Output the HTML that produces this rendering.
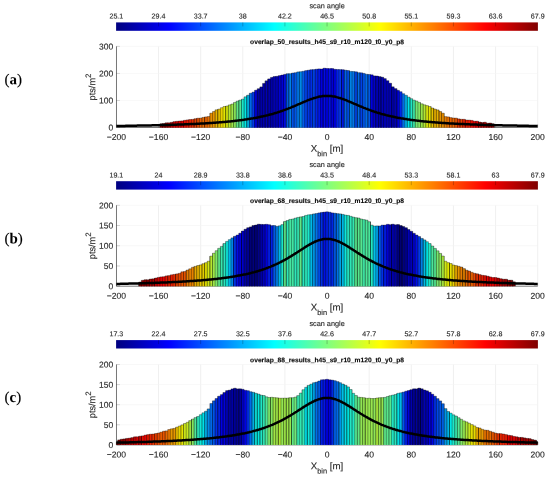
<!DOCTYPE html>
<html lang="en"><head><meta charset="utf-8"><title>Point density vs. scan angle</title>
<style>html,body{margin:0;padding:0;background:#fff}svg{display:block}text{font-family:"Liberation Sans", Arial, Helvetica, sans-serif;fill:#262626;stroke:#262626;stroke-width:.22px;stroke-opacity:.55}.s{font-family:"Liberation Serif", "Times New Roman", serif;fill:#000;stroke:#000;stroke-width:.25px;stroke-opacity:.6}.s tspan{font-weight:bold;stroke:none}</style>
</head><body>
<svg width="550" height="478" viewBox="0 0 550 478">
<rect width="550" height="478" fill="#fff"/>
<defs><linearGradient id="jet" x1="0" x2="1" y1="0" y2="0">
<stop offset="0.0000" stop-color="#000080"/>
<stop offset="0.0156" stop-color="#00008f"/>
<stop offset="0.0312" stop-color="#00009f"/>
<stop offset="0.0469" stop-color="#0000af"/>
<stop offset="0.0625" stop-color="#0000bf"/>
<stop offset="0.0781" stop-color="#0000cf"/>
<stop offset="0.0938" stop-color="#0000df"/>
<stop offset="0.1094" stop-color="#0000ef"/>
<stop offset="0.1250" stop-color="#0000ff"/>
<stop offset="0.1406" stop-color="#0010ff"/>
<stop offset="0.1562" stop-color="#0020ff"/>
<stop offset="0.1719" stop-color="#0030ff"/>
<stop offset="0.1875" stop-color="#0040ff"/>
<stop offset="0.2031" stop-color="#0050ff"/>
<stop offset="0.2188" stop-color="#0060ff"/>
<stop offset="0.2344" stop-color="#0070ff"/>
<stop offset="0.2500" stop-color="#0080ff"/>
<stop offset="0.2656" stop-color="#008fff"/>
<stop offset="0.2812" stop-color="#009fff"/>
<stop offset="0.2969" stop-color="#00afff"/>
<stop offset="0.3125" stop-color="#00bfff"/>
<stop offset="0.3281" stop-color="#00cfff"/>
<stop offset="0.3438" stop-color="#00dfff"/>
<stop offset="0.3594" stop-color="#00efff"/>
<stop offset="0.3750" stop-color="#00ffff"/>
<stop offset="0.3906" stop-color="#10ffef"/>
<stop offset="0.4062" stop-color="#20ffdf"/>
<stop offset="0.4219" stop-color="#30ffcf"/>
<stop offset="0.4375" stop-color="#40ffbf"/>
<stop offset="0.4531" stop-color="#50ffaf"/>
<stop offset="0.4688" stop-color="#60ff9f"/>
<stop offset="0.4844" stop-color="#70ff8f"/>
<stop offset="0.5000" stop-color="#80ff80"/>
<stop offset="0.5156" stop-color="#8fff70"/>
<stop offset="0.5312" stop-color="#9fff60"/>
<stop offset="0.5469" stop-color="#afff50"/>
<stop offset="0.5625" stop-color="#bfff40"/>
<stop offset="0.5781" stop-color="#cfff30"/>
<stop offset="0.5938" stop-color="#dfff20"/>
<stop offset="0.6094" stop-color="#efff10"/>
<stop offset="0.6250" stop-color="#ffff00"/>
<stop offset="0.6406" stop-color="#ffef00"/>
<stop offset="0.6562" stop-color="#ffdf00"/>
<stop offset="0.6719" stop-color="#ffcf00"/>
<stop offset="0.6875" stop-color="#ffbf00"/>
<stop offset="0.7031" stop-color="#ffaf00"/>
<stop offset="0.7188" stop-color="#ff9f00"/>
<stop offset="0.7344" stop-color="#ff8f00"/>
<stop offset="0.7500" stop-color="#ff8000"/>
<stop offset="0.7656" stop-color="#ff7000"/>
<stop offset="0.7812" stop-color="#ff6000"/>
<stop offset="0.7969" stop-color="#ff5000"/>
<stop offset="0.8125" stop-color="#ff4000"/>
<stop offset="0.8281" stop-color="#ff3000"/>
<stop offset="0.8438" stop-color="#ff2000"/>
<stop offset="0.8594" stop-color="#ff1000"/>
<stop offset="0.8750" stop-color="#ff0000"/>
<stop offset="0.8906" stop-color="#ef0000"/>
<stop offset="0.9062" stop-color="#df0000"/>
<stop offset="0.9219" stop-color="#cf0000"/>
<stop offset="0.9375" stop-color="#bf0000"/>
<stop offset="0.9531" stop-color="#af0000"/>
<stop offset="0.9688" stop-color="#9f0000"/>
<stop offset="0.9844" stop-color="#8f0000"/>
<stop offset="1.0000" stop-color="#800000"/>
</linearGradient><filter id="bx" x="-1%" y="-5%" width="102%" height="110%"><feGaussianBlur stdDeviation="0.45 0"/></filter></defs>
<g id="plot1">
<text x="327.05" y="8.20" transform="rotate(.03 327.05 8.20)" font-size="7.3" text-anchor="middle">scan angle</text>
<rect x="116.1" y="22.4" width="421.8" height="8.4" fill="url(#jet)"/>
<text x="116.40" y="18.60" transform="rotate(.03 116.40 18.60)" font-size="7.1" text-anchor="middle">25.1</text>
<line x1="158.53" x2="158.53" y1="22.4" y2="26.4" stroke="#000" stroke-opacity=".38" stroke-width=".6"/>
<text x="158.53" y="18.60" transform="rotate(.03 158.53 18.60)" font-size="7.1" text-anchor="middle">29.4</text>
<line x1="200.66" x2="200.66" y1="22.4" y2="26.4" stroke="#000" stroke-opacity=".38" stroke-width=".6"/>
<text x="200.66" y="18.60" transform="rotate(.03 200.66 18.60)" font-size="7.1" text-anchor="middle">33.7</text>
<line x1="242.79" x2="242.79" y1="22.4" y2="26.4" stroke="#000" stroke-opacity=".38" stroke-width=".6"/>
<text x="242.79" y="18.60" transform="rotate(.03 242.79 18.60)" font-size="7.1" text-anchor="middle">38</text>
<line x1="284.92" x2="284.92" y1="22.4" y2="26.4" stroke="#000" stroke-opacity=".38" stroke-width=".6"/>
<text x="284.92" y="18.60" transform="rotate(.03 284.92 18.60)" font-size="7.1" text-anchor="middle">42.2</text>
<line x1="327.05" x2="327.05" y1="22.4" y2="26.4" stroke="#000" stroke-opacity=".38" stroke-width=".6"/>
<text x="327.05" y="18.60" transform="rotate(.03 327.05 18.60)" font-size="7.1" text-anchor="middle">46.5</text>
<line x1="369.18" x2="369.18" y1="22.4" y2="26.4" stroke="#000" stroke-opacity=".38" stroke-width=".6"/>
<text x="369.18" y="18.60" transform="rotate(.03 369.18 18.60)" font-size="7.1" text-anchor="middle">50.8</text>
<line x1="411.31" x2="411.31" y1="22.4" y2="26.4" stroke="#000" stroke-opacity=".38" stroke-width=".6"/>
<text x="411.31" y="18.60" transform="rotate(.03 411.31 18.60)" font-size="7.1" text-anchor="middle">55.1</text>
<line x1="453.44" x2="453.44" y1="22.4" y2="26.4" stroke="#000" stroke-opacity=".38" stroke-width=".6"/>
<text x="453.44" y="18.60" transform="rotate(.03 453.44 18.60)" font-size="7.1" text-anchor="middle">59.3</text>
<line x1="495.57" x2="495.57" y1="22.4" y2="26.4" stroke="#000" stroke-opacity=".38" stroke-width=".6"/>
<text x="495.57" y="18.60" transform="rotate(.03 495.57 18.60)" font-size="7.1" text-anchor="middle">63.6</text>
<text x="537.70" y="18.60" transform="rotate(.03 537.70 18.60)" font-size="7.1" text-anchor="middle">67.9</text>
<text x="327.05" y="44.10" transform="rotate(.03 327.05 44.10)" font-size="6.7" text-anchor="middle" font-weight="bold" style="fill:#000">overlap_50_results_h45_s9_r10_m120_t0_y0_p8</text>
<line x1="116.40" x2="116.40" y1="46.4" y2="127.5" stroke="#e6e6e6" stroke-width=".6"/>
<line x1="158.53" x2="158.53" y1="46.4" y2="127.5" stroke="#e6e6e6" stroke-width=".6"/>
<line x1="200.66" x2="200.66" y1="46.4" y2="127.5" stroke="#e6e6e6" stroke-width=".6"/>
<line x1="242.79" x2="242.79" y1="46.4" y2="127.5" stroke="#e6e6e6" stroke-width=".6"/>
<line x1="284.92" x2="284.92" y1="46.4" y2="127.5" stroke="#e6e6e6" stroke-width=".6"/>
<line x1="327.05" x2="327.05" y1="46.4" y2="127.5" stroke="#e6e6e6" stroke-width=".6"/>
<line x1="369.18" x2="369.18" y1="46.4" y2="127.5" stroke="#e6e6e6" stroke-width=".6"/>
<line x1="411.31" x2="411.31" y1="46.4" y2="127.5" stroke="#e6e6e6" stroke-width=".6"/>
<line x1="453.44" x2="453.44" y1="46.4" y2="127.5" stroke="#e6e6e6" stroke-width=".6"/>
<line x1="495.57" x2="495.57" y1="46.4" y2="127.5" stroke="#e6e6e6" stroke-width=".6"/>
<line x1="537.70" x2="537.70" y1="46.4" y2="127.5" stroke="#e6e6e6" stroke-width=".6"/>
<line x1="116.4" x2="537.7" y1="127.50" y2="127.50" stroke="#f3f3f3" stroke-width=".6"/>
<line x1="116.4" x2="537.7" y1="100.47" y2="100.47" stroke="#f3f3f3" stroke-width=".6"/>
<line x1="116.4" x2="537.7" y1="73.43" y2="73.43" stroke="#f3f3f3" stroke-width=".6"/>
<line x1="116.4" x2="537.7" y1="46.40" y2="46.40" stroke="#f3f3f3" stroke-width=".6"/>
<path d="M116.5 46.4V127.50H537.7" fill="none" stroke="#262626" stroke-opacity=".6" stroke-width="1"/>
<line x1="116.40" x2="116.40" y1="124.3" y2="127.5" stroke="#262626" stroke-opacity=".3" stroke-width=".6"/>
<text x="116.40" y="140.10" transform="rotate(.03 116.40 140.10)" font-size="8.6" text-anchor="middle">−200</text>
<line x1="158.53" x2="158.53" y1="124.3" y2="127.5" stroke="#262626" stroke-opacity=".3" stroke-width=".6"/>
<text x="158.53" y="140.10" transform="rotate(.03 158.53 140.10)" font-size="8.6" text-anchor="middle">−160</text>
<line x1="200.66" x2="200.66" y1="124.3" y2="127.5" stroke="#262626" stroke-opacity=".3" stroke-width=".6"/>
<text x="200.66" y="140.10" transform="rotate(.03 200.66 140.10)" font-size="8.6" text-anchor="middle">−120</text>
<line x1="242.79" x2="242.79" y1="124.3" y2="127.5" stroke="#262626" stroke-opacity=".3" stroke-width=".6"/>
<text x="242.79" y="140.10" transform="rotate(.03 242.79 140.10)" font-size="8.6" text-anchor="middle">−80</text>
<line x1="284.92" x2="284.92" y1="124.3" y2="127.5" stroke="#262626" stroke-opacity=".3" stroke-width=".6"/>
<text x="284.92" y="140.10" transform="rotate(.03 284.92 140.10)" font-size="8.6" text-anchor="middle">−40</text>
<line x1="327.05" x2="327.05" y1="124.3" y2="127.5" stroke="#262626" stroke-opacity=".3" stroke-width=".6"/>
<text x="327.05" y="140.10" transform="rotate(.03 327.05 140.10)" font-size="8.6" text-anchor="middle">0</text>
<line x1="369.18" x2="369.18" y1="124.3" y2="127.5" stroke="#262626" stroke-opacity=".3" stroke-width=".6"/>
<text x="369.18" y="140.10" transform="rotate(.03 369.18 140.10)" font-size="8.6" text-anchor="middle">40</text>
<line x1="411.31" x2="411.31" y1="124.3" y2="127.5" stroke="#262626" stroke-opacity=".3" stroke-width=".6"/>
<text x="411.31" y="140.10" transform="rotate(.03 411.31 140.10)" font-size="8.6" text-anchor="middle">80</text>
<line x1="453.44" x2="453.44" y1="124.3" y2="127.5" stroke="#262626" stroke-opacity=".3" stroke-width=".6"/>
<text x="453.44" y="140.10" transform="rotate(.03 453.44 140.10)" font-size="8.6" text-anchor="middle">120</text>
<line x1="495.57" x2="495.57" y1="124.3" y2="127.5" stroke="#262626" stroke-opacity=".3" stroke-width=".6"/>
<text x="495.57" y="140.10" transform="rotate(.03 495.57 140.10)" font-size="8.6" text-anchor="middle">160</text>
<line x1="537.70" x2="537.70" y1="124.3" y2="127.5" stroke="#262626" stroke-opacity=".3" stroke-width=".6"/>
<text x="537.70" y="140.10" transform="rotate(.03 537.70 140.10)" font-size="8.6" text-anchor="middle">200</text>
<line x1="116.4" x2="119.9" y1="127.50" y2="127.50" stroke="#262626" stroke-opacity=".3" stroke-width=".6"/>
<text x="113.30" y="130.60" transform="rotate(.03 113.30 130.60)" font-size="8.5" text-anchor="end">0</text>
<line x1="116.4" x2="119.9" y1="100.47" y2="100.47" stroke="#262626" stroke-opacity=".3" stroke-width=".6"/>
<text x="113.30" y="103.57" transform="rotate(.03 113.30 103.57)" font-size="8.5" text-anchor="end">100</text>
<line x1="116.4" x2="119.9" y1="73.43" y2="73.43" stroke="#262626" stroke-opacity=".3" stroke-width=".6"/>
<text x="113.30" y="76.53" transform="rotate(.03 113.30 76.53)" font-size="8.5" text-anchor="end">200</text>
<line x1="116.4" x2="119.9" y1="46.40" y2="46.40" stroke="#262626" stroke-opacity=".3" stroke-width=".6"/>
<text x="113.30" y="49.50" transform="rotate(.03 113.30 49.50)" font-size="8.5" text-anchor="end">300</text>
<g filter="url(#bx)"><rect x="161.88" y="123.8" width="1.2" height="3.7" fill="#960000"/><rect x="164.51" y="123.5" width="1.2" height="4.0" fill="#9a0000"/><rect x="167.15" y="122.8" width="1.2" height="4.7" fill="#b50000"/><rect x="169.78" y="122.8" width="1.2" height="4.7" fill="#bc0000"/><rect x="172.41" y="122.3" width="1.2" height="5.2" fill="#d30000"/><rect x="175.05" y="121.6" width="1.2" height="5.9" fill="#d10000"/><rect x="177.68" y="121.3" width="1.2" height="6.2" fill="#e10000"/><rect x="180.31" y="121.0" width="1.2" height="6.5" fill="#df0000"/><rect x="182.94" y="120.9" width="1.2" height="6.6" fill="#e60d00"/><rect x="185.58" y="120.3" width="1.2" height="7.2" fill="#e61500"/><rect x="188.21" y="119.9" width="1.2" height="7.6" fill="#e62200"/><rect x="190.84" y="119.5" width="1.2" height="8.0" fill="#e62d00"/><rect x="193.48" y="119.4" width="1.2" height="8.1" fill="#e63f00"/><rect x="196.11" y="118.7" width="1.2" height="8.8" fill="#e64c00"/><rect x="198.74" y="118.2" width="1.2" height="9.3" fill="#e65e00"/><rect x="201.38" y="118.1" width="1.2" height="9.4" fill="#e66a00"/><rect x="204.01" y="117.4" width="1.2" height="10.1" fill="#e66400"/><rect x="206.64" y="116.9" width="1.2" height="10.6" fill="#e66c00"/><rect x="209.28" y="116.5" width="1.2" height="11.0" fill="#e68e00"/><rect x="211.91" y="113.1" width="1.2" height="14.4" fill="#e69300"/><rect x="214.54" y="111.5" width="1.2" height="16.0" fill="#e6b200"/><rect x="217.18" y="109.8" width="1.2" height="17.7" fill="#e6bf00"/><rect x="219.81" y="109.1" width="1.2" height="18.4" fill="#e6d000"/><rect x="222.44" y="107.7" width="1.2" height="19.8" fill="#e5e601"/><rect x="225.07" y="106.5" width="1.2" height="21.0" fill="#d4e611"/><rect x="227.71" y="106.0" width="1.2" height="21.5" fill="#b4e631"/><rect x="230.34" y="104.9" width="1.2" height="22.6" fill="#a0e646"/><rect x="232.97" y="104.0" width="1.2" height="23.5" fill="#8ae65c"/><rect x="235.61" y="102.4" width="1.2" height="25.1" fill="#5ee687"/><rect x="238.24" y="101.1" width="1.2" height="26.4" fill="#50e695"/><rect x="240.87" y="100.1" width="1.2" height="27.4" fill="#1ee6c8"/><rect x="243.51" y="99.1" width="1.2" height="28.4" fill="#03e6e3"/><rect x="246.14" y="96.8" width="1.2" height="30.7" fill="#00b7e6"/><rect x="248.77" y="95.2" width="1.2" height="32.3" fill="#0067e6"/><rect x="251.41" y="93.2" width="1.2" height="34.3" fill="#003be6"/><rect x="254.04" y="92.1" width="1.2" height="35.4" fill="#0000da"/><rect x="256.67" y="90.2" width="1.2" height="37.3" fill="#0000a1"/><rect x="259.31" y="88.7" width="1.2" height="38.8" fill="#0000a7"/><rect x="261.94" y="86.9" width="1.2" height="40.6" fill="#0000ae"/><rect x="264.57" y="83.4" width="1.2" height="44.1" fill="#0000b9"/><rect x="267.20" y="80.8" width="1.2" height="46.7" fill="#0000ad"/><rect x="269.84" y="78.9" width="1.2" height="48.6" fill="#0000a6"/><rect x="272.47" y="77.4" width="1.2" height="50.1" fill="#0000b1"/><rect x="275.10" y="76.5" width="1.2" height="51.0" fill="#0000b6"/><rect x="277.74" y="76.3" width="1.2" height="51.2" fill="#0000d3"/><rect x="280.37" y="75.6" width="1.2" height="51.9" fill="#0000d6"/><rect x="283.00" y="75.0" width="1.2" height="52.5" fill="#0012e6"/><rect x="285.64" y="74.4" width="1.2" height="53.1" fill="#0059e6"/><rect x="288.27" y="73.7" width="1.2" height="53.8" fill="#0081e6"/><rect x="290.90" y="73.7" width="1.2" height="53.8" fill="#0051e6"/><rect x="293.54" y="73.0" width="1.2" height="54.5" fill="#0055e6"/><rect x="296.17" y="72.7" width="1.2" height="54.8" fill="#0076e6"/><rect x="298.80" y="71.9" width="1.2" height="55.6" fill="#0089e6"/><rect x="301.44" y="71.7" width="1.2" height="55.8" fill="#005de6"/><rect x="304.07" y="71.3" width="1.2" height="56.2" fill="#0041e6"/><rect x="306.70" y="70.6" width="1.2" height="56.9" fill="#0035e6"/><rect x="309.33" y="70.2" width="1.2" height="57.3" fill="#002ee6"/><rect x="311.97" y="69.7" width="1.2" height="57.8" fill="#0044e6"/><rect x="314.60" y="69.6" width="1.2" height="57.9" fill="#0020e6"/><rect x="317.23" y="69.2" width="1.2" height="58.3" fill="#0017e6"/><rect x="319.87" y="69.0" width="1.2" height="58.5" fill="#0000de"/><rect x="322.50" y="69.0" width="1.2" height="58.5" fill="#0007e6"/><rect x="325.13" y="68.5" width="1.2" height="59.0" fill="#0000e2"/><rect x="327.77" y="68.6" width="1.2" height="58.9" fill="#0010e6"/><rect x="330.40" y="68.6" width="1.2" height="58.9" fill="#0000d5"/><rect x="333.03" y="69.3" width="1.2" height="58.2" fill="#0000e3"/><rect x="335.67" y="69.5" width="1.2" height="58.0" fill="#0021e6"/><rect x="338.30" y="69.6" width="1.2" height="57.9" fill="#0039e6"/><rect x="340.93" y="69.7" width="1.2" height="57.8" fill="#0019e6"/><rect x="343.57" y="70.2" width="1.2" height="57.3" fill="#0062e6"/><rect x="346.20" y="70.5" width="1.2" height="57.0" fill="#004de6"/><rect x="348.83" y="71.4" width="1.2" height="56.1" fill="#0082e6"/><rect x="351.46" y="71.5" width="1.2" height="56.0" fill="#0076e6"/><rect x="354.10" y="71.8" width="1.2" height="55.7" fill="#0046e6"/><rect x="356.73" y="72.7" width="1.2" height="54.8" fill="#006ce6"/><rect x="359.36" y="72.8" width="1.2" height="54.7" fill="#0042e6"/><rect x="362.00" y="73.4" width="1.2" height="54.1" fill="#0053e6"/><rect x="364.63" y="74.3" width="1.2" height="53.2" fill="#006be6"/><rect x="367.26" y="74.5" width="1.2" height="53.0" fill="#005ae6"/><rect x="369.90" y="74.8" width="1.2" height="52.7" fill="#0000de"/><rect x="372.53" y="75.9" width="1.2" height="51.6" fill="#0000ca"/><rect x="375.16" y="76.0" width="1.2" height="51.5" fill="#0000be"/><rect x="377.80" y="76.6" width="1.2" height="50.9" fill="#0000a7"/><rect x="380.43" y="77.2" width="1.2" height="50.3" fill="#0000b6"/><rect x="383.06" y="78.6" width="1.2" height="48.9" fill="#0000bb"/><rect x="385.70" y="80.7" width="1.2" height="46.8" fill="#0000af"/><rect x="388.33" y="83.2" width="1.2" height="44.3" fill="#0000b5"/><rect x="390.96" y="86.8" width="1.2" height="40.7" fill="#0000a2"/><rect x="393.59" y="88.6" width="1.2" height="38.9" fill="#0000b1"/><rect x="396.23" y="90.3" width="1.2" height="37.2" fill="#0000d8"/><rect x="398.86" y="91.7" width="1.2" height="35.8" fill="#002ce6"/><rect x="401.49" y="93.7" width="1.2" height="33.8" fill="#006ae6"/><rect x="404.13" y="95.3" width="1.2" height="32.2" fill="#00ace6"/><rect x="406.76" y="97.1" width="1.2" height="30.4" fill="#00e2e6"/><rect x="409.39" y="98.7" width="1.2" height="28.8" fill="#1ee6c8"/><rect x="412.03" y="100.1" width="1.2" height="27.4" fill="#3ee6a8"/><rect x="414.66" y="101.0" width="1.2" height="26.5" fill="#73e672"/><rect x="417.29" y="102.3" width="1.2" height="25.2" fill="#80e666"/><rect x="419.93" y="103.8" width="1.2" height="23.7" fill="#9ce64a"/><rect x="422.56" y="104.8" width="1.2" height="22.7" fill="#b0e636"/><rect x="425.19" y="105.6" width="1.2" height="21.9" fill="#d9e60c"/><rect x="427.83" y="106.5" width="1.2" height="21.0" fill="#e6e200"/><rect x="430.46" y="108.0" width="1.2" height="19.5" fill="#e6c400"/><rect x="433.09" y="109.1" width="1.2" height="18.4" fill="#e6ae00"/><rect x="435.72" y="109.9" width="1.2" height="17.6" fill="#e6b000"/><rect x="438.36" y="111.5" width="1.2" height="16.0" fill="#e69400"/><rect x="440.99" y="113.2" width="1.2" height="14.3" fill="#e68d00"/><rect x="443.62" y="116.6" width="1.2" height="10.9" fill="#e67d00"/><rect x="446.26" y="116.9" width="1.2" height="10.6" fill="#e67000"/><rect x="448.89" y="117.6" width="1.2" height="9.9" fill="#e66200"/><rect x="451.52" y="118.0" width="1.2" height="9.5" fill="#e66300"/><rect x="454.16" y="118.1" width="1.2" height="9.4" fill="#e65600"/><rect x="456.79" y="118.9" width="1.2" height="8.6" fill="#e63400"/><rect x="459.42" y="119.3" width="1.2" height="8.2" fill="#e63d00"/><rect x="462.06" y="119.3" width="1.2" height="8.2" fill="#e62100"/><rect x="464.69" y="120.0" width="1.2" height="7.5" fill="#e61900"/><rect x="467.32" y="120.1" width="1.2" height="7.4" fill="#e61900"/><rect x="469.96" y="120.4" width="1.2" height="7.1" fill="#e60c00"/><rect x="472.59" y="121.2" width="1.2" height="6.3" fill="#e60600"/><rect x="475.22" y="121.2" width="1.2" height="6.3" fill="#df0000"/><rect x="477.85" y="122.0" width="1.2" height="5.5" fill="#be0000"/><rect x="480.49" y="122.5" width="1.2" height="5.0" fill="#b00000"/><rect x="483.12" y="122.5" width="1.2" height="5.0" fill="#b90000"/><rect x="485.75" y="123.2" width="1.2" height="4.3" fill="#9f0000"/><rect x="488.39" y="123.2" width="1.2" height="4.3" fill="#9e0000"/><rect x="491.02" y="123.8" width="1.2" height="3.7" fill="#8f0000"/><rect x="159.85" y="123.8" width="2.63" height="3.7" fill="#930000"/><rect x="162.48" y="123.5" width="2.63" height="4.0" fill="#960000"/><rect x="165.11" y="122.8" width="2.63" height="4.7" fill="#9a0000"/><rect x="167.75" y="122.8" width="2.63" height="4.7" fill="#b50000"/><rect x="170.38" y="122.3" width="2.63" height="5.2" fill="#bc0000"/><rect x="173.01" y="121.6" width="2.63" height="5.9" fill="#d30000"/><rect x="175.65" y="121.3" width="2.63" height="6.2" fill="#d10000"/><rect x="178.28" y="121.0" width="2.63" height="6.5" fill="#e10000"/><rect x="180.91" y="120.9" width="2.63" height="6.6" fill="#df0000"/><rect x="183.54" y="120.3" width="2.63" height="7.2" fill="#e60d00"/><rect x="186.18" y="119.9" width="2.63" height="7.6" fill="#e61500"/><rect x="188.81" y="119.5" width="2.63" height="8.0" fill="#e62200"/><rect x="191.44" y="119.4" width="2.63" height="8.1" fill="#e62d00"/><rect x="194.08" y="118.7" width="2.63" height="8.8" fill="#e63f00"/><rect x="196.71" y="118.2" width="2.63" height="9.3" fill="#e64c00"/><rect x="199.34" y="118.1" width="2.63" height="9.4" fill="#e65e00"/><rect x="201.98" y="117.4" width="2.63" height="10.1" fill="#e66a00"/><rect x="204.61" y="116.9" width="2.63" height="10.6" fill="#e66400"/><rect x="207.24" y="116.5" width="2.63" height="11.0" fill="#e66c00"/><rect x="209.88" y="113.1" width="2.63" height="14.4" fill="#e68e00"/><rect x="212.51" y="111.5" width="2.63" height="16.0" fill="#e69300"/><rect x="215.14" y="109.8" width="2.63" height="17.7" fill="#e6b200"/><rect x="217.78" y="109.1" width="2.63" height="18.4" fill="#e6bf00"/><rect x="220.41" y="107.7" width="2.63" height="19.8" fill="#e6d000"/><rect x="223.04" y="106.5" width="2.63" height="21.0" fill="#e5e601"/><rect x="225.67" y="106.0" width="2.63" height="21.5" fill="#d4e611"/><rect x="228.31" y="104.9" width="2.63" height="22.6" fill="#b4e631"/><rect x="230.94" y="104.0" width="2.63" height="23.5" fill="#a0e646"/><rect x="233.57" y="102.4" width="2.63" height="25.1" fill="#8ae65c"/><rect x="236.21" y="101.1" width="2.63" height="26.4" fill="#5ee687"/><rect x="238.84" y="100.1" width="2.63" height="27.4" fill="#50e695"/><rect x="241.47" y="99.1" width="2.63" height="28.4" fill="#1ee6c8"/><rect x="244.11" y="96.8" width="2.63" height="30.7" fill="#03e6e3"/><rect x="246.74" y="95.2" width="2.63" height="32.3" fill="#00b7e6"/><rect x="249.37" y="93.2" width="2.63" height="34.3" fill="#0067e6"/><rect x="252.01" y="92.1" width="2.63" height="35.4" fill="#003be6"/><rect x="254.64" y="90.2" width="2.63" height="37.3" fill="#0000da"/><rect x="257.27" y="88.7" width="2.63" height="38.8" fill="#0000a1"/><rect x="259.91" y="86.9" width="2.63" height="40.6" fill="#0000a7"/><rect x="262.54" y="83.4" width="2.63" height="44.1" fill="#0000ae"/><rect x="265.17" y="80.8" width="2.63" height="46.7" fill="#0000b9"/><rect x="267.80" y="78.9" width="2.63" height="48.6" fill="#0000ad"/><rect x="270.44" y="77.4" width="2.63" height="50.1" fill="#0000a6"/><rect x="273.07" y="76.5" width="2.63" height="51.0" fill="#0000b1"/><rect x="275.70" y="76.3" width="2.63" height="51.2" fill="#0000b6"/><rect x="278.34" y="75.6" width="2.63" height="51.9" fill="#0000d3"/><rect x="280.97" y="75.0" width="2.63" height="52.5" fill="#0000d6"/><rect x="283.60" y="74.4" width="2.63" height="53.1" fill="#0012e6"/><rect x="286.24" y="73.7" width="2.63" height="53.8" fill="#0059e6"/><rect x="288.87" y="73.7" width="2.63" height="53.8" fill="#0081e6"/><rect x="291.50" y="73.0" width="2.63" height="54.5" fill="#0051e6"/><rect x="294.14" y="72.7" width="2.63" height="54.8" fill="#0055e6"/><rect x="296.77" y="71.9" width="2.63" height="55.6" fill="#0076e6"/><rect x="299.40" y="71.7" width="2.63" height="55.8" fill="#0089e6"/><rect x="302.04" y="71.3" width="2.63" height="56.2" fill="#005de6"/><rect x="304.67" y="70.6" width="2.63" height="56.9" fill="#0041e6"/><rect x="307.30" y="70.2" width="2.63" height="57.3" fill="#0035e6"/><rect x="309.93" y="69.7" width="2.63" height="57.8" fill="#002ee6"/><rect x="312.57" y="69.6" width="2.63" height="57.9" fill="#0044e6"/><rect x="315.20" y="69.2" width="2.63" height="58.3" fill="#0020e6"/><rect x="317.83" y="68.9" width="2.63" height="58.6" fill="#0017e6"/><rect x="320.47" y="69.0" width="2.63" height="58.5" fill="#0000de"/><rect x="323.10" y="68.2" width="2.63" height="59.3" fill="#0007e6"/><rect x="325.73" y="68.5" width="2.63" height="59.0" fill="#0000e2"/><rect x="328.37" y="68.6" width="2.63" height="58.9" fill="#0010e6"/><rect x="331.00" y="68.5" width="2.63" height="59.0" fill="#0000d5"/><rect x="333.63" y="69.3" width="2.63" height="58.2" fill="#0000e3"/><rect x="336.27" y="69.5" width="2.63" height="58.0" fill="#0021e6"/><rect x="338.90" y="69.6" width="2.63" height="57.9" fill="#0039e6"/><rect x="341.53" y="69.7" width="2.63" height="57.8" fill="#0019e6"/><rect x="344.17" y="70.2" width="2.63" height="57.3" fill="#0062e6"/><rect x="346.80" y="70.5" width="2.63" height="57.0" fill="#004de6"/><rect x="349.43" y="71.4" width="2.63" height="56.1" fill="#0082e6"/><rect x="352.06" y="71.5" width="2.63" height="56.0" fill="#0076e6"/><rect x="354.70" y="71.8" width="2.63" height="55.7" fill="#0046e6"/><rect x="357.33" y="72.7" width="2.63" height="54.8" fill="#006ce6"/><rect x="359.96" y="72.8" width="2.63" height="54.7" fill="#0042e6"/><rect x="362.60" y="73.4" width="2.63" height="54.1" fill="#0053e6"/><rect x="365.23" y="74.3" width="2.63" height="53.2" fill="#006be6"/><rect x="367.86" y="74.5" width="2.63" height="53.0" fill="#005ae6"/><rect x="370.50" y="74.8" width="2.63" height="52.7" fill="#0000de"/><rect x="373.13" y="75.9" width="2.63" height="51.6" fill="#0000ca"/><rect x="375.76" y="76.0" width="2.63" height="51.5" fill="#0000be"/><rect x="378.40" y="76.6" width="2.63" height="50.9" fill="#0000a7"/><rect x="381.03" y="77.2" width="2.63" height="50.3" fill="#0000b6"/><rect x="383.66" y="78.6" width="2.63" height="48.9" fill="#0000bb"/><rect x="386.30" y="80.7" width="2.63" height="46.8" fill="#0000af"/><rect x="388.93" y="83.2" width="2.63" height="44.3" fill="#0000b5"/><rect x="391.56" y="86.8" width="2.63" height="40.7" fill="#0000a2"/><rect x="394.19" y="88.6" width="2.63" height="38.9" fill="#0000b1"/><rect x="396.83" y="90.3" width="2.63" height="37.2" fill="#0000d8"/><rect x="399.46" y="91.7" width="2.63" height="35.8" fill="#002ce6"/><rect x="402.09" y="93.7" width="2.63" height="33.8" fill="#006ae6"/><rect x="404.73" y="95.3" width="2.63" height="32.2" fill="#00ace6"/><rect x="407.36" y="97.1" width="2.63" height="30.4" fill="#00e2e6"/><rect x="409.99" y="98.7" width="2.63" height="28.8" fill="#1ee6c8"/><rect x="412.63" y="100.1" width="2.63" height="27.4" fill="#3ee6a8"/><rect x="415.26" y="101.0" width="2.63" height="26.5" fill="#73e672"/><rect x="417.89" y="102.3" width="2.63" height="25.2" fill="#80e666"/><rect x="420.53" y="103.8" width="2.63" height="23.7" fill="#9ce64a"/><rect x="423.16" y="104.8" width="2.63" height="22.7" fill="#b0e636"/><rect x="425.79" y="105.6" width="2.63" height="21.9" fill="#d9e60c"/><rect x="428.43" y="106.5" width="2.63" height="21.0" fill="#e6e200"/><rect x="431.06" y="108.0" width="2.63" height="19.5" fill="#e6c400"/><rect x="433.69" y="109.1" width="2.63" height="18.4" fill="#e6ae00"/><rect x="436.32" y="109.9" width="2.63" height="17.6" fill="#e6b000"/><rect x="438.96" y="111.5" width="2.63" height="16.0" fill="#e69400"/><rect x="441.59" y="113.2" width="2.63" height="14.3" fill="#e68d00"/><rect x="444.22" y="116.6" width="2.63" height="10.9" fill="#e67d00"/><rect x="446.86" y="116.9" width="2.63" height="10.6" fill="#e67000"/><rect x="449.49" y="117.6" width="2.63" height="9.9" fill="#e66200"/><rect x="452.12" y="118.0" width="2.63" height="9.5" fill="#e66300"/><rect x="454.76" y="118.1" width="2.63" height="9.4" fill="#e65600"/><rect x="457.39" y="118.9" width="2.63" height="8.6" fill="#e63400"/><rect x="460.02" y="119.3" width="2.63" height="8.2" fill="#e63d00"/><rect x="462.66" y="119.3" width="2.63" height="8.2" fill="#e62100"/><rect x="465.29" y="120.0" width="2.63" height="7.5" fill="#e61900"/><rect x="467.92" y="120.1" width="2.63" height="7.4" fill="#e61900"/><rect x="470.56" y="120.4" width="2.63" height="7.1" fill="#e60c00"/><rect x="473.19" y="121.2" width="2.63" height="6.3" fill="#e60600"/><rect x="475.82" y="121.2" width="2.63" height="6.3" fill="#df0000"/><rect x="478.45" y="122.0" width="2.63" height="5.5" fill="#be0000"/><rect x="481.09" y="122.5" width="2.63" height="5.0" fill="#b00000"/><rect x="483.72" y="122.2" width="2.63" height="5.3" fill="#b90000"/><rect x="486.35" y="123.2" width="2.63" height="4.3" fill="#9f0000"/><rect x="488.99" y="123.0" width="2.63" height="4.5" fill="#9e0000"/><rect x="491.62" y="123.8" width="2.63" height="3.7" fill="#8f0000"/><g fill="none" stroke="#000" stroke-width=".85"><path d="M159.85 127.5V123.8M167.75 127.5V122.8M170.38 127.5V122.3M175.65 127.5V121.3M186.18 127.5V119.9M191.44 127.5V119.4M207.24 127.5V116.5M212.51 127.5V111.5M220.41 127.5V107.7M223.04 127.5V106.5M252.01 127.5V92.1M262.54 127.5V83.4M270.44 127.5V77.4M273.07 127.5V76.5M275.70 127.5V76.3M296.77 127.5V71.9M302.04 127.5V71.3M304.67 127.5V70.6M320.47 127.5V68.9M336.27 127.5V69.3M338.90 127.5V69.5M352.06 127.5V71.4M365.23 127.5V73.4M386.30 127.5V78.6M388.93 127.5V80.7M394.19 127.5V86.8M399.46 127.5V90.3M402.09 127.5V91.7M404.73 127.5V93.7M417.89 127.5V101.0M446.86 127.5V116.6M467.92 127.5V120.0M470.56 127.5V120.1M473.19 127.5V120.4M486.35 127.5V122.2" stroke-opacity=".4"/><path d="M162.48 127.5V123.5M165.11 127.5V122.8M173.01 127.5V121.6M178.28 127.5V121.0M180.91 127.5V120.9M183.54 127.5V120.3M188.81 127.5V119.5M199.34 127.5V118.1M201.98 127.5V117.4M209.88 127.5V113.1M215.14 127.5V109.8M228.31 127.5V104.9M230.94 127.5V104.0M233.57 127.5V102.4M236.21 127.5V101.1M241.47 127.5V99.1M244.11 127.5V96.8M249.37 127.5V93.2M254.64 127.5V90.2M257.27 127.5V88.7M259.91 127.5V86.9M278.34 127.5V75.6M280.97 127.5V75.0M283.60 127.5V74.4M291.50 127.5V73.0M294.14 127.5V72.7M299.40 127.5V71.7M307.30 127.5V70.2M309.93 127.5V69.7M312.57 127.5V69.6M315.20 127.5V69.2M317.83 127.5V68.9M325.73 127.5V68.2M328.37 127.5V68.5M331.00 127.5V68.5M333.63 127.5V68.5M346.80 127.5V70.2M354.70 127.5V71.5M362.60 127.5V72.8M370.50 127.5V74.5M373.13 127.5V74.8M378.40 127.5V76.0M383.66 127.5V77.2M391.56 127.5V83.2M407.36 127.5V95.3M412.63 127.5V98.7M415.26 127.5V100.1M420.53 127.5V102.3M423.16 127.5V103.8M425.79 127.5V104.8M428.43 127.5V105.6M436.32 127.5V109.1M441.59 127.5V111.5M444.22 127.5V113.2M449.49 127.5V116.9M452.12 127.5V117.6M454.76 127.5V118.0M457.39 127.5V118.1M462.66 127.5V119.3M475.82 127.5V121.2M483.72 127.5V122.2M488.99 127.5V123.0M491.62 127.5V123.0M494.25 127.5V123.8" stroke-opacity=".56"/><path d="M194.08 127.5V118.7M196.71 127.5V118.2M204.61 127.5V116.9M217.78 127.5V109.1M225.67 127.5V106.0M238.84 127.5V100.1M246.74 127.5V95.2M265.17 127.5V80.8M267.80 127.5V78.9M286.24 127.5V73.7M288.87 127.5V73.7M323.10 127.5V68.2M341.53 127.5V69.6M344.17 127.5V69.7M349.43 127.5V70.5M357.33 127.5V71.8M359.96 127.5V72.7M367.86 127.5V74.3M375.76 127.5V75.9M381.03 127.5V76.6M396.83 127.5V88.6M409.99 127.5V97.1M431.06 127.5V106.5M433.69 127.5V108.0M438.96 127.5V109.9M460.02 127.5V118.9M465.29 127.5V119.3M478.45 127.5V121.2M481.09 127.5V122.0" stroke-opacity=".75"/><path d="M159.85 123.8H162.48M162.48 123.5H165.11M165.11 122.8H167.75M167.75 122.8H170.38M170.38 122.3H173.01M173.01 121.6H175.65M175.65 121.3H178.28M178.28 121.0H180.91M180.91 120.9H183.54M183.54 120.3H186.18M186.18 119.9H188.81M188.81 119.5H191.44M191.44 119.4H194.08M194.08 118.7H196.71M196.71 118.2H199.34M199.34 118.1H201.98M201.98 117.4H204.61M204.61 116.9H207.24M207.24 116.5H209.88M209.88 113.1H212.51M212.51 111.5H215.14M215.14 109.8H217.78M217.78 109.1H220.41M220.41 107.7H223.04M223.04 106.5H225.67M225.67 106.0H228.31M228.31 104.9H230.94M230.94 104.0H233.57M233.57 102.4H236.21M236.21 101.1H238.84M238.84 100.1H241.47M241.47 99.1H244.11M244.11 96.8H246.74M246.74 95.2H249.37M249.37 93.2H252.01M252.01 92.1H254.64M254.64 90.2H257.27M257.27 88.7H259.91M259.91 86.9H262.54M262.54 83.4H265.17M265.17 80.8H267.80M267.80 78.9H270.44M270.44 77.4H273.07M273.07 76.5H275.70M275.70 76.3H278.34M278.34 75.6H280.97M280.97 75.0H283.60M283.60 74.4H286.24M286.24 73.7H288.87M288.87 73.7H291.50M291.50 73.0H294.14M294.14 72.7H296.77M296.77 71.9H299.40M299.40 71.7H302.04M302.04 71.3H304.67M304.67 70.6H307.30M307.30 70.2H309.93M309.93 69.7H312.57M312.57 69.6H315.20M315.20 69.2H317.83M317.83 68.9H320.47M320.47 69.0H323.10M323.10 68.2H325.73M325.73 68.5H328.37M328.37 68.6H331.00M331.00 68.5H333.63M333.63 69.3H336.27M336.27 69.5H338.90M338.90 69.6H341.53M341.53 69.7H344.17M344.17 70.2H346.80M346.80 70.5H349.43M349.43 71.4H352.06M352.06 71.5H354.70M354.70 71.8H357.33M357.33 72.7H359.96M359.96 72.8H362.60M362.60 73.4H365.23M365.23 74.3H367.86M367.86 74.5H370.50M370.50 74.8H373.13M373.13 75.9H375.76M375.76 76.0H378.40M378.40 76.6H381.03M381.03 77.2H383.66M383.66 78.6H386.30M386.30 80.7H388.93M388.93 83.2H391.56M391.56 86.8H394.19M394.19 88.6H396.83M396.83 90.3H399.46M399.46 91.7H402.09M402.09 93.7H404.73M404.73 95.3H407.36M407.36 97.1H409.99M409.99 98.7H412.63M412.63 100.1H415.26M415.26 101.0H417.89M417.89 102.3H420.53M420.53 103.8H423.16M423.16 104.8H425.79M425.79 105.6H428.43M428.43 106.5H431.06M431.06 108.0H433.69M433.69 109.1H436.32M436.32 109.9H438.96M438.96 111.5H441.59M441.59 113.2H444.22M444.22 116.6H446.86M446.86 116.9H449.49M449.49 117.6H452.12M452.12 118.0H454.76M454.76 118.1H457.39M457.39 118.9H460.02M460.02 119.3H462.66M462.66 119.3H465.29M465.29 120.0H467.92M467.92 120.1H470.56M470.56 120.4H473.19M473.19 121.2H475.82M475.82 121.2H478.45M478.45 122.0H481.09M481.09 122.5H483.72M483.72 122.2H486.35M486.35 123.2H488.99M488.99 123.0H491.62M491.62 123.8H494.25" stroke-opacity=".4" stroke-width=".8"/></g></g>
<polyline fill="none" stroke="#000" stroke-width="2.5" stroke-linejoin="round" points="116.4,126.0 117.5,126.0 118.5,125.9 119.6,125.9 120.6,125.9 121.7,125.9 122.7,125.9 123.8,125.9 124.8,125.9 125.9,125.8 126.9,125.8 128.0,125.8 129.0,125.8 130.1,125.8 131.1,125.8 132.2,125.7 133.3,125.7 134.3,125.7 135.4,125.7 136.4,125.7 137.5,125.6 138.5,125.6 139.6,125.6 140.6,125.6 141.7,125.6 142.7,125.5 143.8,125.5 144.8,125.5 145.9,125.5 146.9,125.5 148.0,125.4 149.1,125.4 150.1,125.4 151.2,125.4 152.2,125.3 153.3,125.3 154.3,125.3 155.4,125.3 156.4,125.2 157.5,125.2 158.5,125.2 159.6,125.2 160.6,125.1 161.7,125.1 162.7,125.1 163.8,125.0 164.8,125.0 165.9,125.0 167.0,125.0 168.0,124.9 169.1,124.9 170.1,124.9 171.2,124.8 172.2,124.8 173.3,124.8 174.3,124.7 175.4,124.7 176.4,124.7 177.5,124.6 178.5,124.6 179.6,124.5 180.6,124.5 181.7,124.5 182.8,124.4 183.8,124.4 184.9,124.3 185.9,124.3 187.0,124.3 188.0,124.2 189.1,124.2 190.1,124.1 191.2,124.1 192.2,124.0 193.3,124.0 194.3,123.9 195.4,123.9 196.4,123.8 197.5,123.8 198.6,123.7 199.6,123.7 200.7,123.6 201.7,123.5 202.8,123.5 203.8,123.4 204.9,123.4 205.9,123.3 207.0,123.2 208.0,123.2 209.1,123.1 210.1,123.0 211.2,123.0 212.2,122.9 213.3,122.8 214.4,122.7 215.4,122.7 216.5,122.6 217.5,122.5 218.6,122.4 219.6,122.3 220.7,122.3 221.7,122.2 222.8,122.1 223.8,122.0 224.9,121.9 225.9,121.8 227.0,121.7 228.0,121.6 229.1,121.5 230.2,121.4 231.2,121.3 232.3,121.2 233.3,121.1 234.4,120.9 235.4,120.8 236.5,120.7 237.5,120.6 238.6,120.4 239.6,120.3 240.7,120.2 241.7,120.0 242.8,119.9 243.8,119.8 244.9,119.6 245.9,119.4 247.0,119.3 248.1,119.1 249.1,119.0 250.2,118.8 251.2,118.6 252.3,118.4 253.3,118.3 254.4,118.1 255.4,117.9 256.5,117.7 257.5,117.5 258.6,117.3 259.6,117.0 260.7,116.8 261.7,116.6 262.8,116.4 263.9,116.1 264.9,115.9 266.0,115.6 267.0,115.4 268.1,115.1 269.1,114.8 270.2,114.5 271.2,114.3 272.3,114.0 273.3,113.7 274.4,113.3 275.4,113.0 276.5,112.7 277.5,112.4 278.6,112.0 279.7,111.7 280.7,111.3 281.8,111.0 282.8,110.6 283.9,110.2 284.9,109.8 286.0,109.4 287.0,109.0 288.1,108.6 289.1,108.2 290.2,107.8 291.2,107.4 292.3,106.9 293.3,106.5 294.4,106.1 295.5,105.6 296.5,105.2 297.6,104.7 298.6,104.2 299.7,103.8 300.7,103.3 301.8,102.9 302.8,102.4 303.9,102.0 304.9,101.5 306.0,101.1 307.0,100.7 308.1,100.2 309.1,99.8 310.2,99.4 311.3,99.0 312.3,98.7 313.4,98.3 314.4,98.0 315.5,97.7 316.5,97.4 317.6,97.1 318.6,96.8 319.7,96.6 320.7,96.4 321.8,96.3 322.8,96.1 323.9,96.0 324.9,95.9 326.0,95.9 327.1,95.9 328.1,95.9 329.2,95.9 330.2,96.0 331.3,96.1 332.3,96.3 333.4,96.4 334.4,96.6 335.5,96.8 336.5,97.1 337.6,97.4 338.6,97.7 339.7,98.0 340.7,98.3 341.8,98.7 342.8,99.0 343.9,99.4 345.0,99.8 346.0,100.2 347.1,100.7 348.1,101.1 349.2,101.5 350.2,102.0 351.3,102.4 352.3,102.9 353.4,103.3 354.4,103.8 355.5,104.2 356.5,104.7 357.6,105.2 358.6,105.6 359.7,106.1 360.8,106.5 361.8,106.9 362.9,107.4 363.9,107.8 365.0,108.2 366.0,108.6 367.1,109.0 368.1,109.4 369.2,109.8 370.2,110.2 371.3,110.6 372.3,111.0 373.4,111.3 374.4,111.7 375.5,112.0 376.6,112.4 377.6,112.7 378.7,113.0 379.7,113.3 380.8,113.7 381.8,114.0 382.9,114.3 383.9,114.5 385.0,114.8 386.0,115.1 387.1,115.4 388.1,115.6 389.2,115.9 390.2,116.1 391.3,116.4 392.4,116.6 393.4,116.8 394.5,117.0 395.5,117.3 396.6,117.5 397.6,117.7 398.7,117.9 399.7,118.1 400.8,118.3 401.8,118.4 402.9,118.6 403.9,118.8 405.0,119.0 406.0,119.1 407.1,119.3 408.2,119.4 409.2,119.6 410.3,119.8 411.3,119.9 412.4,120.0 413.4,120.2 414.5,120.3 415.5,120.4 416.6,120.6 417.6,120.7 418.7,120.8 419.7,120.9 420.8,121.1 421.8,121.2 422.9,121.3 423.9,121.4 425.0,121.5 426.1,121.6 427.1,121.7 428.2,121.8 429.2,121.9 430.3,122.0 431.3,122.1 432.4,122.2 433.4,122.3 434.5,122.3 435.5,122.4 436.6,122.5 437.6,122.6 438.7,122.7 439.7,122.7 440.8,122.8 441.9,122.9 442.9,123.0 444.0,123.0 445.0,123.1 446.1,123.2 447.1,123.2 448.2,123.3 449.2,123.4 450.3,123.4 451.3,123.5 452.4,123.5 453.4,123.6 454.5,123.7 455.5,123.7 456.6,123.8 457.7,123.8 458.7,123.9 459.8,123.9 460.8,124.0 461.9,124.0 462.9,124.1 464.0,124.1 465.0,124.2 466.1,124.2 467.1,124.3 468.2,124.3 469.2,124.3 470.3,124.4 471.3,124.4 472.4,124.5 473.5,124.5 474.5,124.5 475.6,124.6 476.6,124.6 477.7,124.7 478.7,124.7 479.8,124.7 480.8,124.8 481.9,124.8 482.9,124.8 484.0,124.9 485.0,124.9 486.1,124.9 487.1,125.0 488.2,125.0 489.3,125.0 490.3,125.0 491.4,125.1 492.4,125.1 493.5,125.1 494.5,125.2 495.6,125.2 496.6,125.2 497.7,125.2 498.7,125.3 499.8,125.3 500.8,125.3 501.9,125.3 502.9,125.4 504.0,125.4 505.0,125.4 506.1,125.4 507.2,125.5 508.2,125.5 509.3,125.5 510.3,125.5 511.4,125.5 512.4,125.6 513.5,125.6 514.5,125.6 515.6,125.6 516.6,125.6 517.7,125.7 518.7,125.7 519.8,125.7 520.8,125.7 521.9,125.7 523.0,125.8 524.0,125.8 525.1,125.8 526.1,125.8 527.2,125.8 528.2,125.8 529.3,125.9 530.3,125.9 531.4,125.9 532.4,125.9 533.5,125.9 534.5,125.9 535.6,125.9 536.6,126.0 537.7,126.0"/>
<text x="327.05" y="151.80" transform="rotate(.03 327.05 151.80)" font-size="9.7" text-anchor="middle">X<tspan font-size="7.4" dy="4.4">bin</tspan><tspan dy="-4.4"> [m]</tspan></text>
<text transform="translate(95.2 87.0) rotate(-89.97)" font-size="9.2" text-anchor="middle">pts/m<tspan font-size="7.9" dy="-4.2">2</tspan></text>
<text x="4.50" y="84.35" transform="rotate(.03 4.50 84.35)" font-size="15" text-anchor="start" class="s">(<tspan>a</tspan>)</text>
</g>
<g id="plot2">
<text x="327.05" y="167.00" transform="rotate(.03 327.05 167.00)" font-size="7.3" text-anchor="middle">scan angle</text>
<rect x="116.1" y="181.2" width="421.8" height="8.4" fill="url(#jet)"/>
<text x="116.40" y="177.40" transform="rotate(.03 116.40 177.40)" font-size="7.1" text-anchor="middle">19.1</text>
<line x1="158.53" x2="158.53" y1="181.2" y2="185.2" stroke="#000" stroke-opacity=".38" stroke-width=".6"/>
<text x="158.53" y="177.40" transform="rotate(.03 158.53 177.40)" font-size="7.1" text-anchor="middle">24</text>
<line x1="200.66" x2="200.66" y1="181.2" y2="185.2" stroke="#000" stroke-opacity=".38" stroke-width=".6"/>
<text x="200.66" y="177.40" transform="rotate(.03 200.66 177.40)" font-size="7.1" text-anchor="middle">28.9</text>
<line x1="242.79" x2="242.79" y1="181.2" y2="185.2" stroke="#000" stroke-opacity=".38" stroke-width=".6"/>
<text x="242.79" y="177.40" transform="rotate(.03 242.79 177.40)" font-size="7.1" text-anchor="middle">33.8</text>
<line x1="284.92" x2="284.92" y1="181.2" y2="185.2" stroke="#000" stroke-opacity=".38" stroke-width=".6"/>
<text x="284.92" y="177.40" transform="rotate(.03 284.92 177.40)" font-size="7.1" text-anchor="middle">38.6</text>
<line x1="327.05" x2="327.05" y1="181.2" y2="185.2" stroke="#000" stroke-opacity=".38" stroke-width=".6"/>
<text x="327.05" y="177.40" transform="rotate(.03 327.05 177.40)" font-size="7.1" text-anchor="middle">43.5</text>
<line x1="369.18" x2="369.18" y1="181.2" y2="185.2" stroke="#000" stroke-opacity=".38" stroke-width=".6"/>
<text x="369.18" y="177.40" transform="rotate(.03 369.18 177.40)" font-size="7.1" text-anchor="middle">48.4</text>
<line x1="411.31" x2="411.31" y1="181.2" y2="185.2" stroke="#000" stroke-opacity=".38" stroke-width=".6"/>
<text x="411.31" y="177.40" transform="rotate(.03 411.31 177.40)" font-size="7.1" text-anchor="middle">53.3</text>
<line x1="453.44" x2="453.44" y1="181.2" y2="185.2" stroke="#000" stroke-opacity=".38" stroke-width=".6"/>
<text x="453.44" y="177.40" transform="rotate(.03 453.44 177.40)" font-size="7.1" text-anchor="middle">58.1</text>
<line x1="495.57" x2="495.57" y1="181.2" y2="185.2" stroke="#000" stroke-opacity=".38" stroke-width=".6"/>
<text x="495.57" y="177.40" transform="rotate(.03 495.57 177.40)" font-size="7.1" text-anchor="middle">63</text>
<text x="537.70" y="177.40" transform="rotate(.03 537.70 177.40)" font-size="7.1" text-anchor="middle">67.9</text>
<text x="327.05" y="203.00" transform="rotate(.03 327.05 203.00)" font-size="6.7" text-anchor="middle" font-weight="bold" style="fill:#000">overlap_68_results_h45_s9_r10_m120_t0_y0_p8</text>
<line x1="116.40" x2="116.40" y1="205.3" y2="286.2" stroke="#e6e6e6" stroke-width=".6"/>
<line x1="158.53" x2="158.53" y1="205.3" y2="286.2" stroke="#e6e6e6" stroke-width=".6"/>
<line x1="200.66" x2="200.66" y1="205.3" y2="286.2" stroke="#e6e6e6" stroke-width=".6"/>
<line x1="242.79" x2="242.79" y1="205.3" y2="286.2" stroke="#e6e6e6" stroke-width=".6"/>
<line x1="284.92" x2="284.92" y1="205.3" y2="286.2" stroke="#e6e6e6" stroke-width=".6"/>
<line x1="327.05" x2="327.05" y1="205.3" y2="286.2" stroke="#e6e6e6" stroke-width=".6"/>
<line x1="369.18" x2="369.18" y1="205.3" y2="286.2" stroke="#e6e6e6" stroke-width=".6"/>
<line x1="411.31" x2="411.31" y1="205.3" y2="286.2" stroke="#e6e6e6" stroke-width=".6"/>
<line x1="453.44" x2="453.44" y1="205.3" y2="286.2" stroke="#e6e6e6" stroke-width=".6"/>
<line x1="495.57" x2="495.57" y1="205.3" y2="286.2" stroke="#e6e6e6" stroke-width=".6"/>
<line x1="537.70" x2="537.70" y1="205.3" y2="286.2" stroke="#e6e6e6" stroke-width=".6"/>
<line x1="116.4" x2="537.7" y1="286.20" y2="286.20" stroke="#f3f3f3" stroke-width=".6"/>
<line x1="116.4" x2="537.7" y1="265.98" y2="265.98" stroke="#f3f3f3" stroke-width=".6"/>
<line x1="116.4" x2="537.7" y1="245.75" y2="245.75" stroke="#f3f3f3" stroke-width=".6"/>
<line x1="116.4" x2="537.7" y1="225.53" y2="225.53" stroke="#f3f3f3" stroke-width=".6"/>
<line x1="116.4" x2="537.7" y1="205.30" y2="205.30" stroke="#f3f3f3" stroke-width=".6"/>
<path d="M116.5 205.3V286.20H537.7" fill="none" stroke="#262626" stroke-opacity=".6" stroke-width="1"/>
<line x1="116.40" x2="116.40" y1="283.0" y2="286.2" stroke="#262626" stroke-opacity=".3" stroke-width=".6"/>
<text x="116.40" y="298.80" transform="rotate(.03 116.40 298.80)" font-size="8.6" text-anchor="middle">−200</text>
<line x1="158.53" x2="158.53" y1="283.0" y2="286.2" stroke="#262626" stroke-opacity=".3" stroke-width=".6"/>
<text x="158.53" y="298.80" transform="rotate(.03 158.53 298.80)" font-size="8.6" text-anchor="middle">−160</text>
<line x1="200.66" x2="200.66" y1="283.0" y2="286.2" stroke="#262626" stroke-opacity=".3" stroke-width=".6"/>
<text x="200.66" y="298.80" transform="rotate(.03 200.66 298.80)" font-size="8.6" text-anchor="middle">−120</text>
<line x1="242.79" x2="242.79" y1="283.0" y2="286.2" stroke="#262626" stroke-opacity=".3" stroke-width=".6"/>
<text x="242.79" y="298.80" transform="rotate(.03 242.79 298.80)" font-size="8.6" text-anchor="middle">−80</text>
<line x1="284.92" x2="284.92" y1="283.0" y2="286.2" stroke="#262626" stroke-opacity=".3" stroke-width=".6"/>
<text x="284.92" y="298.80" transform="rotate(.03 284.92 298.80)" font-size="8.6" text-anchor="middle">−40</text>
<line x1="327.05" x2="327.05" y1="283.0" y2="286.2" stroke="#262626" stroke-opacity=".3" stroke-width=".6"/>
<text x="327.05" y="298.80" transform="rotate(.03 327.05 298.80)" font-size="8.6" text-anchor="middle">0</text>
<line x1="369.18" x2="369.18" y1="283.0" y2="286.2" stroke="#262626" stroke-opacity=".3" stroke-width=".6"/>
<text x="369.18" y="298.80" transform="rotate(.03 369.18 298.80)" font-size="8.6" text-anchor="middle">40</text>
<line x1="411.31" x2="411.31" y1="283.0" y2="286.2" stroke="#262626" stroke-opacity=".3" stroke-width=".6"/>
<text x="411.31" y="298.80" transform="rotate(.03 411.31 298.80)" font-size="8.6" text-anchor="middle">80</text>
<line x1="453.44" x2="453.44" y1="283.0" y2="286.2" stroke="#262626" stroke-opacity=".3" stroke-width=".6"/>
<text x="453.44" y="298.80" transform="rotate(.03 453.44 298.80)" font-size="8.6" text-anchor="middle">120</text>
<line x1="495.57" x2="495.57" y1="283.0" y2="286.2" stroke="#262626" stroke-opacity=".3" stroke-width=".6"/>
<text x="495.57" y="298.80" transform="rotate(.03 495.57 298.80)" font-size="8.6" text-anchor="middle">160</text>
<line x1="537.70" x2="537.70" y1="283.0" y2="286.2" stroke="#262626" stroke-opacity=".3" stroke-width=".6"/>
<text x="537.70" y="298.80" transform="rotate(.03 537.70 298.80)" font-size="8.6" text-anchor="middle">200</text>
<line x1="116.4" x2="119.9" y1="286.20" y2="286.20" stroke="#262626" stroke-opacity=".3" stroke-width=".6"/>
<text x="113.30" y="289.30" transform="rotate(.03 113.30 289.30)" font-size="8.5" text-anchor="end">0</text>
<line x1="116.4" x2="119.9" y1="265.98" y2="265.98" stroke="#262626" stroke-opacity=".3" stroke-width=".6"/>
<text x="113.30" y="269.08" transform="rotate(.03 113.30 269.08)" font-size="8.5" text-anchor="end">50</text>
<line x1="116.4" x2="119.9" y1="245.75" y2="245.75" stroke="#262626" stroke-opacity=".3" stroke-width=".6"/>
<text x="113.30" y="248.85" transform="rotate(.03 113.30 248.85)" font-size="8.5" text-anchor="end">100</text>
<line x1="116.4" x2="119.9" y1="225.53" y2="225.53" stroke="#262626" stroke-opacity=".3" stroke-width=".6"/>
<text x="113.30" y="228.62" transform="rotate(.03 113.30 228.62)" font-size="8.5" text-anchor="end">150</text>
<line x1="116.4" x2="119.9" y1="205.30" y2="205.30" stroke="#262626" stroke-opacity=".3" stroke-width=".6"/>
<text x="113.30" y="208.40" transform="rotate(.03 113.30 208.40)" font-size="8.5" text-anchor="end">200</text>
<g filter="url(#bx)"><rect x="140.81" y="282.0" width="1.2" height="4.2" fill="#8e0000"/><rect x="143.45" y="280.3" width="1.2" height="5.9" fill="#830000"/><rect x="146.08" y="279.8" width="1.2" height="6.4" fill="#960000"/><rect x="148.71" y="279.8" width="1.2" height="6.4" fill="#af0000"/><rect x="151.35" y="279.0" width="1.2" height="7.2" fill="#aa0000"/><rect x="153.98" y="278.8" width="1.2" height="7.4" fill="#be0000"/><rect x="156.61" y="278.0" width="1.2" height="8.2" fill="#d10000"/><rect x="159.25" y="277.4" width="1.2" height="8.8" fill="#dc0000"/><rect x="161.88" y="276.9" width="1.2" height="9.3" fill="#e60300"/><rect x="164.51" y="276.7" width="1.2" height="9.5" fill="#e61900"/><rect x="167.15" y="275.9" width="1.2" height="10.3" fill="#e62300"/><rect x="169.78" y="275.6" width="1.2" height="10.6" fill="#e61e00"/><rect x="172.41" y="274.8" width="1.2" height="11.4" fill="#e62900"/><rect x="175.05" y="274.4" width="1.2" height="11.8" fill="#e64300"/><rect x="177.68" y="273.9" width="1.2" height="12.3" fill="#e64900"/><rect x="180.31" y="273.3" width="1.2" height="12.9" fill="#e65100"/><rect x="182.94" y="271.8" width="1.2" height="14.4" fill="#e65500"/><rect x="185.58" y="271.5" width="1.2" height="14.7" fill="#e67b00"/><rect x="188.21" y="270.0" width="1.2" height="16.2" fill="#e68000"/><rect x="190.84" y="268.8" width="1.2" height="17.4" fill="#e68100"/><rect x="193.48" y="267.3" width="1.2" height="18.9" fill="#e6a700"/><rect x="196.11" y="266.4" width="1.2" height="19.8" fill="#e6b200"/><rect x="198.74" y="265.5" width="1.2" height="20.7" fill="#e6c900"/><rect x="201.38" y="264.9" width="1.2" height="21.3" fill="#e6ce00"/><rect x="204.01" y="263.7" width="1.2" height="22.5" fill="#e6e400"/><rect x="206.64" y="262.7" width="1.2" height="23.5" fill="#d0e615"/><rect x="209.28" y="261.2" width="1.2" height="25.0" fill="#b9e62d"/><rect x="211.91" y="256.1" width="1.2" height="30.1" fill="#9ce649"/><rect x="214.54" y="253.2" width="1.2" height="33.0" fill="#7fe666"/><rect x="217.18" y="250.7" width="1.2" height="35.5" fill="#5fe686"/><rect x="219.81" y="248.3" width="1.2" height="37.9" fill="#38e6ad"/><rect x="222.44" y="246.4" width="1.2" height="39.8" fill="#2be6bb"/><rect x="225.07" y="243.5" width="1.2" height="42.7" fill="#0de6d9"/><rect x="227.71" y="241.4" width="1.2" height="44.8" fill="#00b5e6"/><rect x="230.34" y="239.6" width="1.2" height="46.6" fill="#0085e6"/><rect x="232.97" y="237.9" width="1.2" height="48.3" fill="#0034e6"/><rect x="235.61" y="236.3" width="1.2" height="49.9" fill="#0009e6"/><rect x="238.24" y="235.0" width="1.2" height="51.2" fill="#0000dd"/><rect x="240.87" y="233.2" width="1.2" height="53.0" fill="#0000cc"/><rect x="243.51" y="231.0" width="1.2" height="55.2" fill="#0000a0"/><rect x="246.14" y="229.2" width="1.2" height="57.0" fill="#00009b"/><rect x="248.77" y="227.7" width="1.2" height="58.5" fill="#000077"/><rect x="251.41" y="226.9" width="1.2" height="59.3" fill="#00007e"/><rect x="254.04" y="225.5" width="1.2" height="60.7" fill="#00007a"/><rect x="256.67" y="225.0" width="1.2" height="61.2" fill="#00008b"/><rect x="259.31" y="224.4" width="1.2" height="61.8" fill="#0000a3"/><rect x="261.94" y="224.5" width="1.2" height="61.7" fill="#0000bb"/><rect x="264.57" y="224.5" width="1.2" height="61.7" fill="#0000d9"/><rect x="267.20" y="224.7" width="1.2" height="61.5" fill="#001de6"/><rect x="269.84" y="225.6" width="1.2" height="60.6" fill="#0020e6"/><rect x="272.47" y="225.6" width="1.2" height="60.6" fill="#0056e6"/><rect x="275.10" y="226.4" width="1.2" height="59.8" fill="#007de6"/><rect x="277.74" y="226.4" width="1.2" height="59.8" fill="#00b4e6"/><rect x="280.37" y="225.8" width="1.2" height="60.4" fill="#18e6cd"/><rect x="283.00" y="224.6" width="1.2" height="61.6" fill="#5ee687"/><rect x="285.64" y="221.5" width="1.2" height="64.7" fill="#2ee6b7"/><rect x="288.27" y="220.5" width="1.2" height="65.7" fill="#44e6a1"/><rect x="290.90" y="219.4" width="1.2" height="66.8" fill="#43e6a3"/><rect x="293.54" y="219.0" width="1.2" height="67.2" fill="#2ee6b8"/><rect x="296.17" y="218.1" width="1.2" height="68.1" fill="#35e6b1"/><rect x="298.80" y="217.4" width="1.2" height="68.8" fill="#60e686"/><rect x="301.44" y="216.9" width="1.2" height="69.3" fill="#25e6c0"/><rect x="304.07" y="216.5" width="1.2" height="69.7" fill="#2ee6b7"/><rect x="306.70" y="215.4" width="1.2" height="70.8" fill="#1ae6cb"/><rect x="309.33" y="214.8" width="1.2" height="71.4" fill="#00bae6"/><rect x="311.97" y="214.6" width="1.2" height="71.6" fill="#0098e6"/><rect x="314.60" y="213.9" width="1.2" height="72.3" fill="#0073e6"/><rect x="317.23" y="213.5" width="1.2" height="72.7" fill="#004ce6"/><rect x="319.87" y="212.9" width="1.2" height="73.3" fill="#002fe6"/><rect x="322.50" y="212.4" width="1.2" height="73.8" fill="#000fe6"/><rect x="325.13" y="212.1" width="1.2" height="74.1" fill="#0020e6"/><rect x="327.77" y="212.2" width="1.2" height="74.0" fill="#0030e6"/><rect x="330.40" y="212.9" width="1.2" height="73.3" fill="#0026e6"/><rect x="333.03" y="213.2" width="1.2" height="73.0" fill="#005ae6"/><rect x="335.67" y="213.6" width="1.2" height="72.6" fill="#0070e6"/><rect x="338.30" y="213.9" width="1.2" height="72.3" fill="#00a4e6"/><rect x="340.93" y="214.4" width="1.2" height="71.8" fill="#00bbe6"/><rect x="343.57" y="215.1" width="1.2" height="71.1" fill="#0ae6db"/><rect x="346.20" y="215.4" width="1.2" height="70.8" fill="#27e6bf"/><rect x="348.83" y="216.3" width="1.2" height="69.9" fill="#2fe6b6"/><rect x="351.46" y="217.1" width="1.2" height="69.1" fill="#33e6b3"/><rect x="354.10" y="217.7" width="1.2" height="68.5" fill="#5ae68b"/><rect x="356.73" y="218.0" width="1.2" height="68.2" fill="#57e68e"/><rect x="359.36" y="219.0" width="1.2" height="67.2" fill="#57e68f"/><rect x="362.00" y="219.6" width="1.2" height="66.6" fill="#41e6a5"/><rect x="364.63" y="220.1" width="1.2" height="66.1" fill="#4ee698"/><rect x="367.26" y="221.7" width="1.2" height="64.5" fill="#4ae69c"/><rect x="369.90" y="225.1" width="1.2" height="61.1" fill="#22e6c3"/><rect x="372.53" y="226.1" width="1.2" height="60.1" fill="#00c3e6"/><rect x="375.16" y="226.1" width="1.2" height="60.1" fill="#00a1e6"/><rect x="377.80" y="226.0" width="1.2" height="60.2" fill="#0057e6"/><rect x="380.43" y="226.0" width="1.2" height="60.2" fill="#0030e6"/><rect x="383.06" y="225.1" width="1.2" height="61.1" fill="#001ce6"/><rect x="385.70" y="225.1" width="1.2" height="61.1" fill="#0000d0"/><rect x="388.33" y="224.7" width="1.2" height="61.5" fill="#0000b3"/><rect x="390.96" y="224.7" width="1.2" height="61.5" fill="#0000af"/><rect x="393.59" y="224.8" width="1.2" height="61.4" fill="#00009e"/><rect x="396.23" y="224.8" width="1.2" height="61.4" fill="#00007f"/><rect x="398.86" y="225.5" width="1.2" height="60.7" fill="#000073"/><rect x="401.49" y="226.5" width="1.2" height="59.7" fill="#000081"/><rect x="404.13" y="227.7" width="1.2" height="58.5" fill="#00008d"/><rect x="406.76" y="229.5" width="1.2" height="56.7" fill="#0000b8"/><rect x="409.39" y="231.3" width="1.2" height="54.9" fill="#0000b8"/><rect x="412.03" y="233.3" width="1.2" height="52.9" fill="#0000d0"/><rect x="414.66" y="235.0" width="1.2" height="51.2" fill="#0010e6"/><rect x="417.29" y="236.5" width="1.2" height="49.7" fill="#0039e6"/><rect x="419.93" y="238.4" width="1.2" height="47.8" fill="#0083e6"/><rect x="422.56" y="239.9" width="1.2" height="46.3" fill="#00bae6"/><rect x="425.19" y="241.7" width="1.2" height="44.5" fill="#02e6e4"/><rect x="427.83" y="243.5" width="1.2" height="42.7" fill="#26e6bf"/><rect x="430.46" y="246.0" width="1.2" height="40.2" fill="#4be69b"/><rect x="433.09" y="248.4" width="1.2" height="37.8" fill="#54e691"/><rect x="435.72" y="250.8" width="1.2" height="35.4" fill="#78e66d"/><rect x="438.36" y="253.4" width="1.2" height="32.8" fill="#8ce65a"/><rect x="440.99" y="256.0" width="1.2" height="30.2" fill="#a8e63e"/><rect x="443.62" y="261.2" width="1.2" height="25.0" fill="#cde618"/><rect x="446.26" y="262.6" width="1.2" height="23.6" fill="#e0e605"/><rect x="448.89" y="263.5" width="1.2" height="22.7" fill="#e6de00"/><rect x="451.52" y="265.0" width="1.2" height="21.2" fill="#e6cf00"/><rect x="454.16" y="265.6" width="1.2" height="20.6" fill="#e6a900"/><rect x="456.79" y="266.3" width="1.2" height="19.9" fill="#e69100"/><rect x="459.42" y="267.0" width="1.2" height="19.2" fill="#e67b00"/><rect x="462.06" y="268.6" width="1.2" height="17.6" fill="#e68300"/><rect x="464.69" y="270.2" width="1.2" height="16.0" fill="#e66800"/><rect x="467.32" y="271.0" width="1.2" height="15.2" fill="#e65200"/><rect x="469.96" y="272.3" width="1.2" height="13.9" fill="#e66000"/><rect x="472.59" y="273.3" width="1.2" height="12.9" fill="#e64700"/><rect x="475.22" y="273.8" width="1.2" height="12.4" fill="#e63200"/><rect x="477.85" y="274.6" width="1.2" height="11.6" fill="#e62500"/><rect x="480.49" y="275.3" width="1.2" height="10.9" fill="#e61d00"/><rect x="483.12" y="275.6" width="1.2" height="10.6" fill="#e60b00"/><rect x="485.75" y="276.2" width="1.2" height="10.0" fill="#e60500"/><rect x="488.39" y="276.9" width="1.2" height="9.3" fill="#e60100"/><rect x="491.02" y="277.5" width="1.2" height="8.7" fill="#e50000"/><rect x="493.65" y="277.5" width="1.2" height="8.7" fill="#d80000"/><rect x="496.29" y="278.0" width="1.2" height="8.2" fill="#b40000"/><rect x="498.92" y="278.7" width="1.2" height="7.5" fill="#b80000"/><rect x="501.55" y="279.2" width="1.2" height="7.0" fill="#a20000"/><rect x="504.19" y="279.2" width="1.2" height="7.0" fill="#a20000"/><rect x="506.82" y="280.2" width="1.2" height="6.0" fill="#980000"/><rect x="509.45" y="280.2" width="1.2" height="6.0" fill="#860000"/><rect x="512.09" y="281.8" width="1.2" height="4.4" fill="#730000"/><rect x="138.78" y="282.0" width="2.63" height="4.2" fill="#820000"/><rect x="141.41" y="280.3" width="2.63" height="5.9" fill="#8e0000"/><rect x="144.05" y="279.7" width="2.63" height="6.5" fill="#830000"/><rect x="146.68" y="279.8" width="2.63" height="6.4" fill="#960000"/><rect x="149.31" y="279.0" width="2.63" height="7.2" fill="#af0000"/><rect x="151.95" y="278.8" width="2.63" height="7.4" fill="#aa0000"/><rect x="154.58" y="278.0" width="2.63" height="8.2" fill="#be0000"/><rect x="157.21" y="277.4" width="2.63" height="8.8" fill="#d10000"/><rect x="159.85" y="276.9" width="2.63" height="9.3" fill="#dc0000"/><rect x="162.48" y="276.7" width="2.63" height="9.5" fill="#e60300"/><rect x="165.11" y="275.9" width="2.63" height="10.3" fill="#e61900"/><rect x="167.75" y="275.6" width="2.63" height="10.6" fill="#e62300"/><rect x="170.38" y="274.8" width="2.63" height="11.4" fill="#e61e00"/><rect x="173.01" y="274.4" width="2.63" height="11.8" fill="#e62900"/><rect x="175.65" y="273.9" width="2.63" height="12.3" fill="#e64300"/><rect x="178.28" y="273.3" width="2.63" height="12.9" fill="#e64900"/><rect x="180.91" y="271.8" width="2.63" height="14.4" fill="#e65100"/><rect x="183.54" y="271.5" width="2.63" height="14.7" fill="#e65500"/><rect x="186.18" y="270.0" width="2.63" height="16.2" fill="#e67b00"/><rect x="188.81" y="268.8" width="2.63" height="17.4" fill="#e68000"/><rect x="191.44" y="267.3" width="2.63" height="18.9" fill="#e68100"/><rect x="194.08" y="266.4" width="2.63" height="19.8" fill="#e6a700"/><rect x="196.71" y="265.5" width="2.63" height="20.7" fill="#e6b200"/><rect x="199.34" y="264.9" width="2.63" height="21.3" fill="#e6c900"/><rect x="201.98" y="263.7" width="2.63" height="22.5" fill="#e6ce00"/><rect x="204.61" y="262.7" width="2.63" height="23.5" fill="#e6e400"/><rect x="207.24" y="261.2" width="2.63" height="25.0" fill="#d0e615"/><rect x="209.88" y="256.1" width="2.63" height="30.1" fill="#b9e62d"/><rect x="212.51" y="253.2" width="2.63" height="33.0" fill="#9ce649"/><rect x="215.14" y="250.7" width="2.63" height="35.5" fill="#7fe666"/><rect x="217.78" y="248.3" width="2.63" height="37.9" fill="#5fe686"/><rect x="220.41" y="246.4" width="2.63" height="39.8" fill="#38e6ad"/><rect x="223.04" y="243.5" width="2.63" height="42.7" fill="#2be6bb"/><rect x="225.67" y="241.4" width="2.63" height="44.8" fill="#0de6d9"/><rect x="228.31" y="239.6" width="2.63" height="46.6" fill="#00b5e6"/><rect x="230.94" y="237.9" width="2.63" height="48.3" fill="#0085e6"/><rect x="233.57" y="236.3" width="2.63" height="49.9" fill="#0034e6"/><rect x="236.21" y="235.0" width="2.63" height="51.2" fill="#0009e6"/><rect x="238.84" y="233.2" width="2.63" height="53.0" fill="#0000dd"/><rect x="241.47" y="231.0" width="2.63" height="55.2" fill="#0000cc"/><rect x="244.11" y="229.2" width="2.63" height="57.0" fill="#0000a0"/><rect x="246.74" y="227.7" width="2.63" height="58.5" fill="#00009b"/><rect x="249.37" y="226.9" width="2.63" height="59.3" fill="#000077"/><rect x="252.01" y="225.5" width="2.63" height="60.7" fill="#00007e"/><rect x="254.64" y="225.0" width="2.63" height="61.2" fill="#00007a"/><rect x="257.27" y="224.2" width="2.63" height="62.0" fill="#00008b"/><rect x="259.91" y="224.4" width="2.63" height="61.8" fill="#0000a3"/><rect x="262.54" y="224.5" width="2.63" height="61.7" fill="#0000bb"/><rect x="265.17" y="224.3" width="2.63" height="61.9" fill="#0000d9"/><rect x="267.80" y="224.7" width="2.63" height="61.5" fill="#001de6"/><rect x="270.44" y="225.6" width="2.63" height="60.6" fill="#0020e6"/><rect x="273.07" y="225.5" width="2.63" height="60.7" fill="#0056e6"/><rect x="275.70" y="226.4" width="2.63" height="59.8" fill="#007de6"/><rect x="278.34" y="225.8" width="2.63" height="60.4" fill="#00b4e6"/><rect x="280.97" y="224.6" width="2.63" height="61.6" fill="#18e6cd"/><rect x="283.60" y="221.5" width="2.63" height="64.7" fill="#5ee687"/><rect x="286.24" y="220.5" width="2.63" height="65.7" fill="#2ee6b7"/><rect x="288.87" y="219.4" width="2.63" height="66.8" fill="#44e6a1"/><rect x="291.50" y="219.0" width="2.63" height="67.2" fill="#43e6a3"/><rect x="294.14" y="218.1" width="2.63" height="68.1" fill="#2ee6b8"/><rect x="296.77" y="217.4" width="2.63" height="68.8" fill="#35e6b1"/><rect x="299.40" y="216.9" width="2.63" height="69.3" fill="#60e686"/><rect x="302.04" y="216.5" width="2.63" height="69.7" fill="#25e6c0"/><rect x="304.67" y="215.4" width="2.63" height="70.8" fill="#2ee6b7"/><rect x="307.30" y="214.8" width="2.63" height="71.4" fill="#1ae6cb"/><rect x="309.93" y="214.6" width="2.63" height="71.6" fill="#00bae6"/><rect x="312.57" y="213.9" width="2.63" height="72.3" fill="#0098e6"/><rect x="315.20" y="213.5" width="2.63" height="72.7" fill="#0073e6"/><rect x="317.83" y="212.9" width="2.63" height="73.3" fill="#004ce6"/><rect x="320.47" y="212.4" width="2.63" height="73.8" fill="#002fe6"/><rect x="323.10" y="212.1" width="2.63" height="74.1" fill="#000fe6"/><rect x="325.73" y="211.8" width="2.63" height="74.4" fill="#0020e6"/><rect x="328.37" y="212.2" width="2.63" height="74.0" fill="#0030e6"/><rect x="331.00" y="212.9" width="2.63" height="73.3" fill="#0026e6"/><rect x="333.63" y="213.2" width="2.63" height="73.0" fill="#005ae6"/><rect x="336.27" y="213.6" width="2.63" height="72.6" fill="#0070e6"/><rect x="338.90" y="213.9" width="2.63" height="72.3" fill="#00a4e6"/><rect x="341.53" y="214.4" width="2.63" height="71.8" fill="#00bbe6"/><rect x="344.17" y="215.1" width="2.63" height="71.1" fill="#0ae6db"/><rect x="346.80" y="215.4" width="2.63" height="70.8" fill="#27e6bf"/><rect x="349.43" y="216.3" width="2.63" height="69.9" fill="#2fe6b6"/><rect x="352.06" y="217.1" width="2.63" height="69.1" fill="#33e6b3"/><rect x="354.70" y="217.7" width="2.63" height="68.5" fill="#5ae68b"/><rect x="357.33" y="218.0" width="2.63" height="68.2" fill="#57e68e"/><rect x="359.96" y="219.0" width="2.63" height="67.2" fill="#57e68f"/><rect x="362.60" y="219.6" width="2.63" height="66.6" fill="#41e6a5"/><rect x="365.23" y="220.1" width="2.63" height="66.1" fill="#4ee698"/><rect x="367.86" y="221.7" width="2.63" height="64.5" fill="#4ae69c"/><rect x="370.50" y="225.1" width="2.63" height="61.1" fill="#22e6c3"/><rect x="373.13" y="226.1" width="2.63" height="60.1" fill="#00c3e6"/><rect x="375.76" y="225.9" width="2.63" height="60.3" fill="#00a1e6"/><rect x="378.40" y="226.0" width="2.63" height="60.2" fill="#0057e6"/><rect x="381.03" y="225.1" width="2.63" height="61.1" fill="#0030e6"/><rect x="383.66" y="225.1" width="2.63" height="61.1" fill="#001ce6"/><rect x="386.30" y="224.3" width="2.63" height="61.9" fill="#0000d0"/><rect x="388.93" y="224.7" width="2.63" height="61.5" fill="#0000b3"/><rect x="391.56" y="224.2" width="2.63" height="62.0" fill="#0000af"/><rect x="394.19" y="224.8" width="2.63" height="61.4" fill="#00009e"/><rect x="396.83" y="224.5" width="2.63" height="61.7" fill="#00007f"/><rect x="399.46" y="225.5" width="2.63" height="60.7" fill="#000073"/><rect x="402.09" y="226.5" width="2.63" height="59.7" fill="#000081"/><rect x="404.73" y="227.7" width="2.63" height="58.5" fill="#00008d"/><rect x="407.36" y="229.5" width="2.63" height="56.7" fill="#0000b8"/><rect x="409.99" y="231.3" width="2.63" height="54.9" fill="#0000b8"/><rect x="412.63" y="233.3" width="2.63" height="52.9" fill="#0000d0"/><rect x="415.26" y="235.0" width="2.63" height="51.2" fill="#0010e6"/><rect x="417.89" y="236.5" width="2.63" height="49.7" fill="#0039e6"/><rect x="420.53" y="238.4" width="2.63" height="47.8" fill="#0083e6"/><rect x="423.16" y="239.9" width="2.63" height="46.3" fill="#00bae6"/><rect x="425.79" y="241.7" width="2.63" height="44.5" fill="#02e6e4"/><rect x="428.43" y="243.5" width="2.63" height="42.7" fill="#26e6bf"/><rect x="431.06" y="246.0" width="2.63" height="40.2" fill="#4be69b"/><rect x="433.69" y="248.4" width="2.63" height="37.8" fill="#54e691"/><rect x="436.32" y="250.8" width="2.63" height="35.4" fill="#78e66d"/><rect x="438.96" y="253.4" width="2.63" height="32.8" fill="#8ce65a"/><rect x="441.59" y="256.0" width="2.63" height="30.2" fill="#a8e63e"/><rect x="444.22" y="261.2" width="2.63" height="25.0" fill="#cde618"/><rect x="446.86" y="262.6" width="2.63" height="23.6" fill="#e0e605"/><rect x="449.49" y="263.5" width="2.63" height="22.7" fill="#e6de00"/><rect x="452.12" y="265.0" width="2.63" height="21.2" fill="#e6cf00"/><rect x="454.76" y="265.6" width="2.63" height="20.6" fill="#e6a900"/><rect x="457.39" y="266.3" width="2.63" height="19.9" fill="#e69100"/><rect x="460.02" y="267.0" width="2.63" height="19.2" fill="#e67b00"/><rect x="462.66" y="268.6" width="2.63" height="17.6" fill="#e68300"/><rect x="465.29" y="270.2" width="2.63" height="16.0" fill="#e66800"/><rect x="467.92" y="271.0" width="2.63" height="15.2" fill="#e65200"/><rect x="470.56" y="272.3" width="2.63" height="13.9" fill="#e66000"/><rect x="473.19" y="273.3" width="2.63" height="12.9" fill="#e64700"/><rect x="475.82" y="273.8" width="2.63" height="12.4" fill="#e63200"/><rect x="478.45" y="274.6" width="2.63" height="11.6" fill="#e62500"/><rect x="481.09" y="275.3" width="2.63" height="10.9" fill="#e61d00"/><rect x="483.72" y="275.6" width="2.63" height="10.6" fill="#e60b00"/><rect x="486.35" y="276.2" width="2.63" height="10.0" fill="#e60500"/><rect x="488.99" y="276.9" width="2.63" height="9.3" fill="#e60100"/><rect x="491.62" y="277.5" width="2.63" height="8.7" fill="#e50000"/><rect x="494.25" y="277.5" width="2.63" height="8.7" fill="#d80000"/><rect x="496.89" y="278.0" width="2.63" height="8.2" fill="#b40000"/><rect x="499.52" y="278.7" width="2.63" height="7.5" fill="#b80000"/><rect x="502.15" y="279.2" width="2.63" height="7.0" fill="#a20000"/><rect x="504.79" y="279.2" width="2.63" height="7.0" fill="#a20000"/><rect x="507.42" y="280.2" width="2.63" height="6.0" fill="#980000"/><rect x="510.05" y="280.2" width="2.63" height="6.0" fill="#860000"/><rect x="512.69" y="281.8" width="2.63" height="4.4" fill="#730000"/><g fill="none" stroke="#000" stroke-width=".85"><path d="M144.05 286.2V279.7M162.48 286.2V276.7M173.01 286.2V274.4M191.44 286.2V267.3M215.14 286.2V250.7M228.31 286.2V239.6M230.94 286.2V237.9M262.54 286.2V224.4M267.80 286.2V224.3M291.50 286.2V219.0M307.30 286.2V214.8M317.83 286.2V212.9M362.60 286.2V219.0M375.76 286.2V225.9M381.03 286.2V225.1M386.30 286.2V224.3M388.93 286.2V224.3M394.19 286.2V224.2M396.83 286.2V224.5M404.73 286.2V226.5M409.99 286.2V229.5M428.43 286.2V241.7M446.86 286.2V261.2M473.19 286.2V272.3M491.62 286.2V276.9M499.52 286.2V278.0M504.79 286.2V279.2" stroke-opacity=".4"/><path d="M141.41 286.2V280.3M146.68 286.2V279.7M157.21 286.2V277.4M159.85 286.2V276.9M165.11 286.2V275.9M170.38 286.2V274.8M178.28 286.2V273.3M180.91 286.2V271.8M183.54 286.2V271.5M188.81 286.2V268.8M196.71 286.2V265.5M199.34 286.2V264.9M207.24 286.2V261.2M212.51 286.2V253.2M217.78 286.2V248.3M220.41 286.2V246.4M225.67 286.2V241.4M236.21 286.2V235.0M238.84 286.2V233.2M244.11 286.2V229.2M246.74 286.2V227.7M249.37 286.2V226.9M252.01 286.2V225.5M254.64 286.2V225.0M257.27 286.2V224.2M259.91 286.2V224.2M265.17 286.2V224.3M273.07 286.2V225.5M275.70 286.2V225.5M278.34 286.2V225.8M280.97 286.2V224.6M288.87 286.2V219.4M294.14 286.2V218.1M296.77 286.2V217.4M299.40 286.2V216.9M304.67 286.2V215.4M309.93 286.2V214.6M312.57 286.2V213.9M315.20 286.2V213.5M320.47 286.2V212.4M325.73 286.2V211.8M328.37 286.2V211.8M331.00 286.2V212.2M333.63 286.2V212.9M338.90 286.2V213.6M344.17 286.2V214.4M346.80 286.2V215.1M349.43 286.2V215.4M352.06 286.2V216.3M354.70 286.2V217.1M359.96 286.2V218.0M365.23 286.2V219.6M367.86 286.2V220.1M373.13 286.2V225.1M399.46 286.2V224.5M407.36 286.2V227.7M415.26 286.2V233.3M417.89 286.2V235.0M420.53 286.2V236.5M431.06 286.2V243.5M433.69 286.2V246.0M436.32 286.2V248.4M438.96 286.2V250.8M441.59 286.2V253.4M444.22 286.2V256.0M452.12 286.2V263.5M454.76 286.2V265.0M457.39 286.2V265.6M460.02 286.2V266.3M470.56 286.2V271.0M481.09 286.2V274.6M483.72 286.2V275.3M494.25 286.2V277.5M496.89 286.2V277.5M502.15 286.2V278.7M515.32 286.2V281.8" stroke-opacity=".56"/><path d="M138.78 286.2V282.0M149.31 286.2V279.0M151.95 286.2V278.8M154.58 286.2V278.0M167.75 286.2V275.6M175.65 286.2V273.9M186.18 286.2V270.0M194.08 286.2V266.4M201.98 286.2V263.7M204.61 286.2V262.7M209.88 286.2V256.1M223.04 286.2V243.5M233.57 286.2V236.3M241.47 286.2V231.0M270.44 286.2V224.7M283.60 286.2V221.5M286.24 286.2V220.5M302.04 286.2V216.5M323.10 286.2V212.1M336.27 286.2V213.2M341.53 286.2V213.9M357.33 286.2V217.7M370.50 286.2V221.7M378.40 286.2V225.9M383.66 286.2V225.1M391.56 286.2V224.2M402.09 286.2V225.5M412.63 286.2V231.3M423.16 286.2V238.4M425.79 286.2V239.9M449.49 286.2V262.6M462.66 286.2V267.0M465.29 286.2V268.6M467.92 286.2V270.2M475.82 286.2V273.3M478.45 286.2V273.8M486.35 286.2V275.6M488.99 286.2V276.2M507.42 286.2V279.2M510.05 286.2V280.2M512.69 286.2V280.2" stroke-opacity=".75"/><path d="M138.78 282.0H141.41M141.41 280.3H144.05M144.05 279.7H146.68M146.68 279.8H149.31M149.31 279.0H151.95M151.95 278.8H154.58M154.58 278.0H157.21M157.21 277.4H159.85M159.85 276.9H162.48M162.48 276.7H165.11M165.11 275.9H167.75M167.75 275.6H170.38M170.38 274.8H173.01M173.01 274.4H175.65M175.65 273.9H178.28M178.28 273.3H180.91M180.91 271.8H183.54M183.54 271.5H186.18M186.18 270.0H188.81M188.81 268.8H191.44M191.44 267.3H194.08M194.08 266.4H196.71M196.71 265.5H199.34M199.34 264.9H201.98M201.98 263.7H204.61M204.61 262.7H207.24M207.24 261.2H209.88M209.88 256.1H212.51M212.51 253.2H215.14M215.14 250.7H217.78M217.78 248.3H220.41M220.41 246.4H223.04M223.04 243.5H225.67M225.67 241.4H228.31M228.31 239.6H230.94M230.94 237.9H233.57M233.57 236.3H236.21M236.21 235.0H238.84M238.84 233.2H241.47M241.47 231.0H244.11M244.11 229.2H246.74M246.74 227.7H249.37M249.37 226.9H252.01M252.01 225.5H254.64M254.64 225.0H257.27M257.27 224.2H259.91M259.91 224.4H262.54M262.54 224.5H265.17M265.17 224.3H267.80M267.80 224.7H270.44M270.44 225.6H273.07M273.07 225.5H275.70M275.70 226.4H278.34M278.34 225.8H280.97M280.97 224.6H283.60M283.60 221.5H286.24M286.24 220.5H288.87M288.87 219.4H291.50M291.50 219.0H294.14M294.14 218.1H296.77M296.77 217.4H299.40M299.40 216.9H302.04M302.04 216.5H304.67M304.67 215.4H307.30M307.30 214.8H309.93M309.93 214.6H312.57M312.57 213.9H315.20M315.20 213.5H317.83M317.83 212.9H320.47M320.47 212.4H323.10M323.10 212.1H325.73M325.73 211.8H328.37M328.37 212.2H331.00M331.00 212.9H333.63M333.63 213.2H336.27M336.27 213.6H338.90M338.90 213.9H341.53M341.53 214.4H344.17M344.17 215.1H346.80M346.80 215.4H349.43M349.43 216.3H352.06M352.06 217.1H354.70M354.70 217.7H357.33M357.33 218.0H359.96M359.96 219.0H362.60M362.60 219.6H365.23M365.23 220.1H367.86M367.86 221.7H370.50M370.50 225.1H373.13M373.13 226.1H375.76M375.76 225.9H378.40M378.40 226.0H381.03M381.03 225.1H383.66M383.66 225.1H386.30M386.30 224.3H388.93M388.93 224.7H391.56M391.56 224.2H394.19M394.19 224.8H396.83M396.83 224.5H399.46M399.46 225.5H402.09M402.09 226.5H404.73M404.73 227.7H407.36M407.36 229.5H409.99M409.99 231.3H412.63M412.63 233.3H415.26M415.26 235.0H417.89M417.89 236.5H420.53M420.53 238.4H423.16M423.16 239.9H425.79M425.79 241.7H428.43M428.43 243.5H431.06M431.06 246.0H433.69M433.69 248.4H436.32M436.32 250.8H438.96M438.96 253.4H441.59M441.59 256.0H444.22M444.22 261.2H446.86M446.86 262.6H449.49M449.49 263.5H452.12M452.12 265.0H454.76M454.76 265.6H457.39M457.39 266.3H460.02M460.02 267.0H462.66M462.66 268.6H465.29M465.29 270.2H467.92M467.92 271.0H470.56M470.56 272.3H473.19M473.19 273.3H475.82M475.82 273.8H478.45M478.45 274.6H481.09M481.09 275.3H483.72M483.72 275.6H486.35M486.35 276.2H488.99M488.99 276.9H491.62M491.62 277.5H494.25M494.25 277.5H496.89M496.89 278.0H499.52M499.52 278.7H502.15M502.15 279.2H504.79M504.79 279.2H507.42M507.42 280.2H510.05M510.05 280.2H512.69M512.69 281.8H515.32" stroke-opacity=".4" stroke-width=".8"/></g></g>
<polyline fill="none" stroke="#000" stroke-width="2.5" stroke-linejoin="round" points="116.4,283.9 117.5,283.9 118.5,283.9 119.6,283.9 120.6,283.8 121.7,283.8 122.7,283.8 123.8,283.8 124.8,283.7 125.9,283.7 126.9,283.7 128.0,283.7 129.0,283.6 130.1,283.6 131.1,283.6 132.2,283.6 133.3,283.5 134.3,283.5 135.4,283.5 136.4,283.4 137.5,283.4 138.5,283.4 139.6,283.4 140.6,283.3 141.7,283.3 142.7,283.3 143.8,283.2 144.8,283.2 145.9,283.2 146.9,283.1 148.0,283.1 149.1,283.1 150.1,283.0 151.2,283.0 152.2,283.0 153.3,282.9 154.3,282.9 155.4,282.8 156.4,282.8 157.5,282.8 158.5,282.7 159.6,282.7 160.6,282.6 161.7,282.6 162.7,282.6 163.8,282.5 164.8,282.5 165.9,282.4 167.0,282.4 168.0,282.3 169.1,282.3 170.1,282.2 171.2,282.2 172.2,282.1 173.3,282.1 174.3,282.0 175.4,282.0 176.4,281.9 177.5,281.9 178.5,281.8 179.6,281.8 180.6,281.7 181.7,281.7 182.8,281.6 183.8,281.5 184.9,281.5 185.9,281.4 187.0,281.3 188.0,281.3 189.1,281.2 190.1,281.1 191.2,281.1 192.2,281.0 193.3,280.9 194.3,280.8 195.4,280.8 196.4,280.7 197.5,280.6 198.6,280.5 199.6,280.4 200.7,280.4 201.7,280.3 202.8,280.2 203.8,280.1 204.9,280.0 205.9,279.9 207.0,279.8 208.0,279.7 209.1,279.6 210.1,279.5 211.2,279.4 212.2,279.3 213.3,279.2 214.4,279.1 215.4,279.0 216.5,278.9 217.5,278.7 218.6,278.6 219.6,278.5 220.7,278.4 221.7,278.2 222.8,278.1 223.8,278.0 224.9,277.8 225.9,277.7 227.0,277.5 228.0,277.4 229.1,277.2 230.2,277.1 231.2,276.9 232.3,276.7 233.3,276.6 234.4,276.4 235.4,276.2 236.5,276.0 237.5,275.8 238.6,275.6 239.6,275.4 240.7,275.2 241.7,275.0 242.8,274.8 243.8,274.6 244.9,274.4 245.9,274.2 247.0,273.9 248.1,273.7 249.1,273.4 250.2,273.2 251.2,272.9 252.3,272.6 253.3,272.4 254.4,272.1 255.4,271.8 256.5,271.5 257.5,271.2 258.6,270.9 259.6,270.5 260.7,270.2 261.7,269.9 262.8,269.5 263.9,269.2 264.9,268.8 266.0,268.4 267.0,268.0 268.1,267.6 269.1,267.2 270.2,266.8 271.2,266.4 272.3,265.9 273.3,265.5 274.4,265.0 275.4,264.5 276.5,264.1 277.5,263.6 278.6,263.1 279.7,262.5 280.7,262.0 281.8,261.5 282.8,260.9 283.9,260.3 284.9,259.8 286.0,259.2 287.0,258.6 288.1,258.0 289.1,257.3 290.2,256.7 291.2,256.1 292.3,255.4 293.3,254.8 294.4,254.1 295.5,253.4 296.5,252.8 297.6,252.1 298.6,251.4 299.7,250.7 300.7,250.0 301.8,249.4 302.8,248.7 303.9,248.0 304.9,247.3 306.0,246.7 307.0,246.0 308.1,245.4 309.1,244.8 310.2,244.2 311.3,243.6 312.3,243.0 313.4,242.5 314.4,242.0 315.5,241.5 316.5,241.1 317.6,240.7 318.6,240.3 319.7,240.0 320.7,239.7 321.8,239.5 322.8,239.2 323.9,239.1 324.9,239.0 326.0,238.9 327.1,238.9 328.1,238.9 329.2,239.0 330.2,239.1 331.3,239.2 332.3,239.5 333.4,239.7 334.4,240.0 335.5,240.3 336.5,240.7 337.6,241.1 338.6,241.5 339.7,242.0 340.7,242.5 341.8,243.0 342.8,243.6 343.9,244.2 345.0,244.8 346.0,245.4 347.1,246.0 348.1,246.7 349.2,247.3 350.2,248.0 351.3,248.7 352.3,249.4 353.4,250.0 354.4,250.7 355.5,251.4 356.5,252.1 357.6,252.8 358.6,253.4 359.7,254.1 360.8,254.8 361.8,255.4 362.9,256.1 363.9,256.7 365.0,257.3 366.0,258.0 367.1,258.6 368.1,259.2 369.2,259.8 370.2,260.3 371.3,260.9 372.3,261.5 373.4,262.0 374.4,262.5 375.5,263.1 376.6,263.6 377.6,264.1 378.7,264.5 379.7,265.0 380.8,265.5 381.8,265.9 382.9,266.4 383.9,266.8 385.0,267.2 386.0,267.6 387.1,268.0 388.1,268.4 389.2,268.8 390.2,269.2 391.3,269.5 392.4,269.9 393.4,270.2 394.5,270.5 395.5,270.9 396.6,271.2 397.6,271.5 398.7,271.8 399.7,272.1 400.8,272.4 401.8,272.6 402.9,272.9 403.9,273.2 405.0,273.4 406.0,273.7 407.1,273.9 408.2,274.2 409.2,274.4 410.3,274.6 411.3,274.8 412.4,275.0 413.4,275.2 414.5,275.4 415.5,275.6 416.6,275.8 417.6,276.0 418.7,276.2 419.7,276.4 420.8,276.6 421.8,276.7 422.9,276.9 423.9,277.1 425.0,277.2 426.1,277.4 427.1,277.5 428.2,277.7 429.2,277.8 430.3,278.0 431.3,278.1 432.4,278.2 433.4,278.4 434.5,278.5 435.5,278.6 436.6,278.7 437.6,278.9 438.7,279.0 439.7,279.1 440.8,279.2 441.9,279.3 442.9,279.4 444.0,279.5 445.0,279.6 446.1,279.7 447.1,279.8 448.2,279.9 449.2,280.0 450.3,280.1 451.3,280.2 452.4,280.3 453.4,280.4 454.5,280.4 455.5,280.5 456.6,280.6 457.7,280.7 458.7,280.8 459.8,280.8 460.8,280.9 461.9,281.0 462.9,281.1 464.0,281.1 465.0,281.2 466.1,281.3 467.1,281.3 468.2,281.4 469.2,281.5 470.3,281.5 471.3,281.6 472.4,281.7 473.5,281.7 474.5,281.8 475.6,281.8 476.6,281.9 477.7,281.9 478.7,282.0 479.8,282.0 480.8,282.1 481.9,282.1 482.9,282.2 484.0,282.2 485.0,282.3 486.1,282.3 487.1,282.4 488.2,282.4 489.3,282.5 490.3,282.5 491.4,282.6 492.4,282.6 493.5,282.6 494.5,282.7 495.6,282.7 496.6,282.8 497.7,282.8 498.7,282.8 499.8,282.9 500.8,282.9 501.9,283.0 502.9,283.0 504.0,283.0 505.0,283.1 506.1,283.1 507.2,283.1 508.2,283.2 509.3,283.2 510.3,283.2 511.4,283.3 512.4,283.3 513.5,283.3 514.5,283.4 515.6,283.4 516.6,283.4 517.7,283.4 518.7,283.5 519.8,283.5 520.8,283.5 521.9,283.6 523.0,283.6 524.0,283.6 525.1,283.6 526.1,283.7 527.2,283.7 528.2,283.7 529.3,283.7 530.3,283.8 531.4,283.8 532.4,283.8 533.5,283.8 534.5,283.9 535.6,283.9 536.6,283.9 537.7,283.9"/>
<text x="327.05" y="310.50" transform="rotate(.03 327.05 310.50)" font-size="9.7" text-anchor="middle">X<tspan font-size="7.4" dy="4.4">bin</tspan><tspan dy="-4.4"> [m]</tspan></text>
<text transform="translate(95.2 245.8) rotate(-89.97)" font-size="9.2" text-anchor="middle">pts/m<tspan font-size="7.9" dy="-4.2">2</tspan></text>
<text x="4.50" y="243.15" transform="rotate(.03 4.50 243.15)" font-size="15" text-anchor="start" class="s">(<tspan>b</tspan>)</text>
</g>
<g id="plot3">
<text x="327.05" y="325.90" transform="rotate(.03 327.05 325.90)" font-size="7.3" text-anchor="middle">scan angle</text>
<rect x="116.1" y="340.1" width="421.8" height="8.4" fill="url(#jet)"/>
<text x="116.40" y="336.30" transform="rotate(.03 116.40 336.30)" font-size="7.1" text-anchor="middle">17.3</text>
<line x1="158.53" x2="158.53" y1="340.1" y2="344.1" stroke="#000" stroke-opacity=".38" stroke-width=".6"/>
<text x="158.53" y="336.30" transform="rotate(.03 158.53 336.30)" font-size="7.1" text-anchor="middle">22.4</text>
<line x1="200.66" x2="200.66" y1="340.1" y2="344.1" stroke="#000" stroke-opacity=".38" stroke-width=".6"/>
<text x="200.66" y="336.30" transform="rotate(.03 200.66 336.30)" font-size="7.1" text-anchor="middle">27.5</text>
<line x1="242.79" x2="242.79" y1="340.1" y2="344.1" stroke="#000" stroke-opacity=".38" stroke-width=".6"/>
<text x="242.79" y="336.30" transform="rotate(.03 242.79 336.30)" font-size="7.1" text-anchor="middle">32.5</text>
<line x1="284.92" x2="284.92" y1="340.1" y2="344.1" stroke="#000" stroke-opacity=".38" stroke-width=".6"/>
<text x="284.92" y="336.30" transform="rotate(.03 284.92 336.30)" font-size="7.1" text-anchor="middle">37.6</text>
<line x1="327.05" x2="327.05" y1="340.1" y2="344.1" stroke="#000" stroke-opacity=".38" stroke-width=".6"/>
<text x="327.05" y="336.30" transform="rotate(.03 327.05 336.30)" font-size="7.1" text-anchor="middle">42.6</text>
<line x1="369.18" x2="369.18" y1="340.1" y2="344.1" stroke="#000" stroke-opacity=".38" stroke-width=".6"/>
<text x="369.18" y="336.30" transform="rotate(.03 369.18 336.30)" font-size="7.1" text-anchor="middle">47.7</text>
<line x1="411.31" x2="411.31" y1="340.1" y2="344.1" stroke="#000" stroke-opacity=".38" stroke-width=".6"/>
<text x="411.31" y="336.30" transform="rotate(.03 411.31 336.30)" font-size="7.1" text-anchor="middle">52.7</text>
<line x1="453.44" x2="453.44" y1="340.1" y2="344.1" stroke="#000" stroke-opacity=".38" stroke-width=".6"/>
<text x="453.44" y="336.30" transform="rotate(.03 453.44 336.30)" font-size="7.1" text-anchor="middle">57.8</text>
<line x1="495.57" x2="495.57" y1="340.1" y2="344.1" stroke="#000" stroke-opacity=".38" stroke-width=".6"/>
<text x="495.57" y="336.30" transform="rotate(.03 495.57 336.30)" font-size="7.1" text-anchor="middle">62.8</text>
<text x="537.70" y="336.30" transform="rotate(.03 537.70 336.30)" font-size="7.1" text-anchor="middle">67.9</text>
<text x="327.05" y="362.20" transform="rotate(.03 327.05 362.20)" font-size="6.7" text-anchor="middle" font-weight="bold" style="fill:#000">overlap_88_results_h45_s9_r10_m120_t0_y0_p8</text>
<line x1="116.40" x2="116.40" y1="364.5" y2="444.9" stroke="#e6e6e6" stroke-width=".6"/>
<line x1="158.53" x2="158.53" y1="364.5" y2="444.9" stroke="#e6e6e6" stroke-width=".6"/>
<line x1="200.66" x2="200.66" y1="364.5" y2="444.9" stroke="#e6e6e6" stroke-width=".6"/>
<line x1="242.79" x2="242.79" y1="364.5" y2="444.9" stroke="#e6e6e6" stroke-width=".6"/>
<line x1="284.92" x2="284.92" y1="364.5" y2="444.9" stroke="#e6e6e6" stroke-width=".6"/>
<line x1="327.05" x2="327.05" y1="364.5" y2="444.9" stroke="#e6e6e6" stroke-width=".6"/>
<line x1="369.18" x2="369.18" y1="364.5" y2="444.9" stroke="#e6e6e6" stroke-width=".6"/>
<line x1="411.31" x2="411.31" y1="364.5" y2="444.9" stroke="#e6e6e6" stroke-width=".6"/>
<line x1="453.44" x2="453.44" y1="364.5" y2="444.9" stroke="#e6e6e6" stroke-width=".6"/>
<line x1="495.57" x2="495.57" y1="364.5" y2="444.9" stroke="#e6e6e6" stroke-width=".6"/>
<line x1="537.70" x2="537.70" y1="364.5" y2="444.9" stroke="#e6e6e6" stroke-width=".6"/>
<line x1="116.4" x2="537.7" y1="444.90" y2="444.90" stroke="#f3f3f3" stroke-width=".6"/>
<line x1="116.4" x2="537.7" y1="424.80" y2="424.80" stroke="#f3f3f3" stroke-width=".6"/>
<line x1="116.4" x2="537.7" y1="404.70" y2="404.70" stroke="#f3f3f3" stroke-width=".6"/>
<line x1="116.4" x2="537.7" y1="384.60" y2="384.60" stroke="#f3f3f3" stroke-width=".6"/>
<line x1="116.4" x2="537.7" y1="364.50" y2="364.50" stroke="#f3f3f3" stroke-width=".6"/>
<path d="M116.5 364.5V444.90H537.7" fill="none" stroke="#262626" stroke-opacity=".6" stroke-width="1"/>
<line x1="116.40" x2="116.40" y1="441.7" y2="444.9" stroke="#262626" stroke-opacity=".3" stroke-width=".6"/>
<text x="116.40" y="457.50" transform="rotate(.03 116.40 457.50)" font-size="8.6" text-anchor="middle">−200</text>
<line x1="158.53" x2="158.53" y1="441.7" y2="444.9" stroke="#262626" stroke-opacity=".3" stroke-width=".6"/>
<text x="158.53" y="457.50" transform="rotate(.03 158.53 457.50)" font-size="8.6" text-anchor="middle">−160</text>
<line x1="200.66" x2="200.66" y1="441.7" y2="444.9" stroke="#262626" stroke-opacity=".3" stroke-width=".6"/>
<text x="200.66" y="457.50" transform="rotate(.03 200.66 457.50)" font-size="8.6" text-anchor="middle">−120</text>
<line x1="242.79" x2="242.79" y1="441.7" y2="444.9" stroke="#262626" stroke-opacity=".3" stroke-width=".6"/>
<text x="242.79" y="457.50" transform="rotate(.03 242.79 457.50)" font-size="8.6" text-anchor="middle">−80</text>
<line x1="284.92" x2="284.92" y1="441.7" y2="444.9" stroke="#262626" stroke-opacity=".3" stroke-width=".6"/>
<text x="284.92" y="457.50" transform="rotate(.03 284.92 457.50)" font-size="8.6" text-anchor="middle">−40</text>
<line x1="327.05" x2="327.05" y1="441.7" y2="444.9" stroke="#262626" stroke-opacity=".3" stroke-width=".6"/>
<text x="327.05" y="457.50" transform="rotate(.03 327.05 457.50)" font-size="8.6" text-anchor="middle">0</text>
<line x1="369.18" x2="369.18" y1="441.7" y2="444.9" stroke="#262626" stroke-opacity=".3" stroke-width=".6"/>
<text x="369.18" y="457.50" transform="rotate(.03 369.18 457.50)" font-size="8.6" text-anchor="middle">40</text>
<line x1="411.31" x2="411.31" y1="441.7" y2="444.9" stroke="#262626" stroke-opacity=".3" stroke-width=".6"/>
<text x="411.31" y="457.50" transform="rotate(.03 411.31 457.50)" font-size="8.6" text-anchor="middle">80</text>
<line x1="453.44" x2="453.44" y1="441.7" y2="444.9" stroke="#262626" stroke-opacity=".3" stroke-width=".6"/>
<text x="453.44" y="457.50" transform="rotate(.03 453.44 457.50)" font-size="8.6" text-anchor="middle">120</text>
<line x1="495.57" x2="495.57" y1="441.7" y2="444.9" stroke="#262626" stroke-opacity=".3" stroke-width=".6"/>
<text x="495.57" y="457.50" transform="rotate(.03 495.57 457.50)" font-size="8.6" text-anchor="middle">160</text>
<line x1="537.70" x2="537.70" y1="441.7" y2="444.9" stroke="#262626" stroke-opacity=".3" stroke-width=".6"/>
<text x="537.70" y="457.50" transform="rotate(.03 537.70 457.50)" font-size="8.6" text-anchor="middle">200</text>
<line x1="116.4" x2="119.9" y1="444.90" y2="444.90" stroke="#262626" stroke-opacity=".3" stroke-width=".6"/>
<text x="113.30" y="448.00" transform="rotate(.03 113.30 448.00)" font-size="8.5" text-anchor="end">0</text>
<line x1="116.4" x2="119.9" y1="424.80" y2="424.80" stroke="#262626" stroke-opacity=".3" stroke-width=".6"/>
<text x="113.30" y="427.90" transform="rotate(.03 113.30 427.90)" font-size="8.5" text-anchor="end">50</text>
<line x1="116.4" x2="119.9" y1="404.70" y2="404.70" stroke="#262626" stroke-opacity=".3" stroke-width=".6"/>
<text x="113.30" y="407.80" transform="rotate(.03 113.30 407.80)" font-size="8.5" text-anchor="end">100</text>
<line x1="116.4" x2="119.9" y1="384.60" y2="384.60" stroke="#262626" stroke-opacity=".3" stroke-width=".6"/>
<text x="113.30" y="387.70" transform="rotate(.03 113.30 387.70)" font-size="8.5" text-anchor="end">150</text>
<line x1="116.4" x2="119.9" y1="364.50" y2="364.50" stroke="#262626" stroke-opacity=".3" stroke-width=".6"/>
<text x="113.30" y="367.60" transform="rotate(.03 113.30 367.60)" font-size="8.5" text-anchor="end">200</text>
<g filter="url(#bx)"><rect x="117.12" y="442.3" width="1.2" height="2.6" fill="#780000"/><rect x="119.75" y="439.9" width="1.2" height="5.0" fill="#8e0000"/><rect x="122.38" y="439.2" width="1.2" height="5.7" fill="#8d0000"/><rect x="125.02" y="438.9" width="1.2" height="6.0" fill="#a40000"/><rect x="127.65" y="438.4" width="1.2" height="6.5" fill="#b80000"/><rect x="130.28" y="438.1" width="1.2" height="6.8" fill="#b60000"/><rect x="132.92" y="437.6" width="1.2" height="7.3" fill="#b90000"/><rect x="135.55" y="436.8" width="1.2" height="8.1" fill="#da0000"/><rect x="138.18" y="436.8" width="1.2" height="8.1" fill="#cc0000"/><rect x="140.81" y="436.2" width="1.2" height="8.7" fill="#e60900"/><rect x="143.45" y="435.9" width="1.2" height="9.0" fill="#e60400"/><rect x="146.08" y="435.1" width="1.2" height="9.8" fill="#e61a00"/><rect x="148.71" y="434.6" width="1.2" height="10.3" fill="#e62200"/><rect x="151.35" y="434.2" width="1.2" height="10.7" fill="#e63000"/><rect x="153.98" y="434.0" width="1.2" height="10.9" fill="#e63d00"/><rect x="156.61" y="433.5" width="1.2" height="11.4" fill="#e64800"/><rect x="159.25" y="433.0" width="1.2" height="11.9" fill="#e65a00"/><rect x="161.88" y="432.1" width="1.2" height="12.8" fill="#e65300"/><rect x="164.51" y="431.2" width="1.2" height="13.7" fill="#e66600"/><rect x="167.15" y="430.9" width="1.2" height="14.0" fill="#e67500"/><rect x="169.78" y="429.5" width="1.2" height="15.4" fill="#e69800"/><rect x="172.41" y="428.8" width="1.2" height="16.1" fill="#e69400"/><rect x="175.05" y="428.4" width="1.2" height="16.5" fill="#e6bb00"/><rect x="177.68" y="427.1" width="1.2" height="17.8" fill="#e6d500"/><rect x="180.31" y="426.0" width="1.2" height="18.9" fill="#e6e300"/><rect x="182.94" y="424.9" width="1.2" height="20.0" fill="#cbe61b"/><rect x="185.58" y="423.5" width="1.2" height="21.4" fill="#c5e620"/><rect x="188.21" y="422.3" width="1.2" height="22.6" fill="#a5e641"/><rect x="190.84" y="420.6" width="1.2" height="24.3" fill="#85e661"/><rect x="193.48" y="419.1" width="1.2" height="25.8" fill="#4fe697"/><rect x="196.11" y="417.6" width="1.2" height="27.3" fill="#2ce6ba"/><rect x="198.74" y="416.5" width="1.2" height="28.4" fill="#0ee6d8"/><rect x="201.38" y="414.7" width="1.2" height="30.2" fill="#00e2e6"/><rect x="204.01" y="412.8" width="1.2" height="32.1" fill="#00ade6"/><rect x="206.64" y="411.2" width="1.2" height="33.7" fill="#0088e6"/><rect x="209.28" y="408.9" width="1.2" height="36.0" fill="#0067e6"/><rect x="211.91" y="403.5" width="1.2" height="41.4" fill="#0054e6"/><rect x="214.54" y="400.8" width="1.2" height="44.1" fill="#002ee6"/><rect x="217.18" y="398.5" width="1.2" height="46.4" fill="#0022e6"/><rect x="219.81" y="396.2" width="1.2" height="48.7" fill="#0000e3"/><rect x="222.44" y="394.6" width="1.2" height="50.3" fill="#0000dd"/><rect x="225.07" y="392.5" width="1.2" height="52.4" fill="#0000b8"/><rect x="227.71" y="390.6" width="1.2" height="54.3" fill="#00009b"/><rect x="230.34" y="390.1" width="1.2" height="54.8" fill="#0000a5"/><rect x="232.97" y="388.9" width="1.2" height="56.0" fill="#00009c"/><rect x="235.61" y="388.9" width="1.2" height="56.0" fill="#000094"/><rect x="238.24" y="388.9" width="1.2" height="56.0" fill="#000099"/><rect x="240.87" y="389.3" width="1.2" height="55.6" fill="#0000c0"/><rect x="243.51" y="390.3" width="1.2" height="54.6" fill="#0000e3"/><rect x="246.14" y="390.7" width="1.2" height="54.2" fill="#002ce6"/><rect x="248.77" y="391.7" width="1.2" height="53.2" fill="#006ee6"/><rect x="251.41" y="392.3" width="1.2" height="52.6" fill="#00ace6"/><rect x="254.04" y="393.3" width="1.2" height="51.6" fill="#0ae6dc"/><rect x="256.67" y="394.1" width="1.2" height="50.8" fill="#06e6df"/><rect x="259.31" y="395.2" width="1.2" height="49.7" fill="#1ee6c7"/><rect x="261.94" y="395.5" width="1.2" height="49.4" fill="#32e6b4"/><rect x="264.57" y="396.8" width="1.2" height="48.1" fill="#4ee698"/><rect x="267.20" y="397.5" width="1.2" height="47.4" fill="#7be66b"/><rect x="269.84" y="397.5" width="1.2" height="47.4" fill="#87e65e"/><rect x="272.47" y="397.6" width="1.2" height="47.3" fill="#a2e644"/><rect x="275.10" y="397.8" width="1.2" height="47.1" fill="#9fe647"/><rect x="277.74" y="398.2" width="1.2" height="46.7" fill="#b0e635"/><rect x="280.37" y="398.2" width="1.2" height="46.7" fill="#94e652"/><rect x="283.00" y="398.2" width="1.2" height="46.7" fill="#9de648"/><rect x="285.64" y="398.1" width="1.2" height="46.8" fill="#9be64a"/><rect x="288.27" y="398.1" width="1.2" height="46.8" fill="#97e64e"/><rect x="290.90" y="397.7" width="1.2" height="47.2" fill="#61e684"/><rect x="293.54" y="397.7" width="1.2" height="47.2" fill="#71e674"/><rect x="296.17" y="397.1" width="1.2" height="47.8" fill="#35e6b0"/><rect x="298.80" y="395.6" width="1.2" height="49.3" fill="#33e6b2"/><rect x="301.44" y="393.0" width="1.2" height="51.9" fill="#34e6b1"/><rect x="304.07" y="389.7" width="1.2" height="55.2" fill="#00dae6"/><rect x="306.70" y="387.3" width="1.2" height="57.6" fill="#0de6d9"/><rect x="309.33" y="385.4" width="1.2" height="59.5" fill="#00cce6"/><rect x="311.97" y="384.1" width="1.2" height="60.8" fill="#00a4e6"/><rect x="314.60" y="382.7" width="1.2" height="62.2" fill="#006ee6"/><rect x="317.23" y="382.1" width="1.2" height="62.8" fill="#005ee6"/><rect x="319.87" y="381.0" width="1.2" height="63.9" fill="#001ee6"/><rect x="322.50" y="379.8" width="1.2" height="65.1" fill="#0017e6"/><rect x="325.13" y="379.7" width="1.2" height="65.2" fill="#0000e5"/><rect x="327.77" y="379.8" width="1.2" height="65.1" fill="#0000da"/><rect x="330.40" y="380.1" width="1.2" height="64.8" fill="#0026e6"/><rect x="333.03" y="380.7" width="1.2" height="64.2" fill="#005ee6"/><rect x="335.67" y="381.6" width="1.2" height="63.3" fill="#006ae6"/><rect x="338.30" y="382.7" width="1.2" height="62.2" fill="#0093e6"/><rect x="340.93" y="384.0" width="1.2" height="60.9" fill="#00c0e6"/><rect x="343.57" y="385.3" width="1.2" height="59.6" fill="#00dbe6"/><rect x="346.20" y="386.9" width="1.2" height="58.0" fill="#05e6e1"/><rect x="348.83" y="389.5" width="1.2" height="55.4" fill="#23e6c3"/><rect x="351.46" y="393.3" width="1.2" height="51.6" fill="#1be6ca"/><rect x="354.10" y="395.5" width="1.2" height="49.4" fill="#57e68f"/><rect x="356.73" y="397.2" width="1.2" height="47.7" fill="#61e684"/><rect x="359.36" y="397.4" width="1.2" height="47.5" fill="#91e655"/><rect x="362.00" y="397.7" width="1.2" height="47.2" fill="#94e652"/><rect x="364.63" y="398.3" width="1.2" height="46.6" fill="#9be64a"/><rect x="367.26" y="398.3" width="1.2" height="46.6" fill="#96e64f"/><rect x="369.90" y="398.5" width="1.2" height="46.4" fill="#97e64f"/><rect x="372.53" y="398.5" width="1.2" height="46.4" fill="#8ce659"/><rect x="375.16" y="398.5" width="1.2" height="46.4" fill="#abe63b"/><rect x="377.80" y="398.0" width="1.2" height="46.9" fill="#94e652"/><rect x="380.43" y="397.7" width="1.2" height="47.2" fill="#98e64e"/><rect x="383.06" y="397.6" width="1.2" height="47.3" fill="#5de689"/><rect x="385.70" y="397.4" width="1.2" height="47.5" fill="#59e68c"/><rect x="388.33" y="396.5" width="1.2" height="48.4" fill="#59e68c"/><rect x="390.96" y="395.7" width="1.2" height="49.2" fill="#21e6c5"/><rect x="393.59" y="395.1" width="1.2" height="49.8" fill="#29e6bd"/><rect x="396.23" y="394.5" width="1.2" height="50.4" fill="#00e2e6"/><rect x="398.86" y="393.3" width="1.2" height="51.6" fill="#00b7e6"/><rect x="401.49" y="392.8" width="1.2" height="52.1" fill="#0059e6"/><rect x="404.13" y="392.1" width="1.2" height="52.8" fill="#0020e6"/><rect x="406.76" y="391.2" width="1.2" height="53.7" fill="#0000db"/><rect x="409.39" y="390.5" width="1.2" height="54.4" fill="#0000af"/><rect x="412.03" y="389.7" width="1.2" height="55.2" fill="#00009b"/><rect x="414.66" y="388.9" width="1.2" height="56.0" fill="#00009e"/><rect x="417.29" y="388.9" width="1.2" height="56.0" fill="#000083"/><rect x="419.93" y="388.8" width="1.2" height="56.1" fill="#000098"/><rect x="422.56" y="390.0" width="1.2" height="54.9" fill="#0000b5"/><rect x="425.19" y="390.8" width="1.2" height="54.1" fill="#0000af"/><rect x="427.83" y="392.2" width="1.2" height="52.7" fill="#0000e0"/><rect x="430.46" y="394.2" width="1.2" height="50.7" fill="#0005e6"/><rect x="433.09" y="396.2" width="1.2" height="48.7" fill="#0030e6"/><rect x="435.72" y="398.6" width="1.2" height="46.3" fill="#0047e6"/><rect x="438.36" y="400.9" width="1.2" height="44.0" fill="#0053e6"/><rect x="440.99" y="403.7" width="1.2" height="41.2" fill="#0062e6"/><rect x="443.62" y="408.6" width="1.2" height="36.3" fill="#0095e6"/><rect x="446.26" y="411.5" width="1.2" height="33.4" fill="#00b5e6"/><rect x="448.89" y="413.1" width="1.2" height="31.8" fill="#01e6e4"/><rect x="451.52" y="414.8" width="1.2" height="30.1" fill="#1be6cb"/><rect x="454.16" y="416.0" width="1.2" height="28.9" fill="#37e6af"/><rect x="456.79" y="417.7" width="1.2" height="27.2" fill="#52e694"/><rect x="459.42" y="419.3" width="1.2" height="25.6" fill="#7ee667"/><rect x="462.06" y="420.9" width="1.2" height="24.0" fill="#94e652"/><rect x="464.69" y="421.9" width="1.2" height="23.0" fill="#aee637"/><rect x="467.32" y="423.2" width="1.2" height="21.7" fill="#c2e624"/><rect x="469.96" y="424.6" width="1.2" height="20.3" fill="#e6e200"/><rect x="472.59" y="425.9" width="1.2" height="19.0" fill="#e6db00"/><rect x="475.22" y="427.5" width="1.2" height="17.4" fill="#e6ab00"/><rect x="477.85" y="428.0" width="1.2" height="16.9" fill="#e69a00"/><rect x="480.49" y="429.3" width="1.2" height="15.6" fill="#e69900"/><rect x="483.12" y="430.1" width="1.2" height="14.8" fill="#e67400"/><rect x="485.75" y="430.3" width="1.2" height="14.6" fill="#e66d00"/><rect x="488.39" y="431.3" width="1.2" height="13.6" fill="#e66b00"/><rect x="491.02" y="432.2" width="1.2" height="12.7" fill="#e65700"/><rect x="493.65" y="433.1" width="1.2" height="11.8" fill="#e64c00"/><rect x="496.29" y="433.6" width="1.2" height="11.3" fill="#e63000"/><rect x="498.92" y="433.6" width="1.2" height="11.3" fill="#e62700"/><rect x="501.55" y="434.0" width="1.2" height="10.9" fill="#e61b00"/><rect x="504.19" y="434.6" width="1.2" height="10.3" fill="#e62100"/><rect x="506.82" y="435.3" width="1.2" height="9.6" fill="#e60400"/><rect x="509.45" y="435.6" width="1.2" height="9.3" fill="#db0000"/><rect x="512.09" y="436.4" width="1.2" height="8.5" fill="#e60100"/><rect x="514.72" y="436.8" width="1.2" height="8.1" fill="#c80000"/><rect x="517.35" y="437.4" width="1.2" height="7.5" fill="#c30000"/><rect x="519.98" y="437.4" width="1.2" height="7.5" fill="#af0000"/><rect x="522.62" y="437.9" width="1.2" height="7.0" fill="#a00000"/><rect x="525.25" y="438.4" width="1.2" height="6.5" fill="#aa0000"/><rect x="527.88" y="438.6" width="1.2" height="6.3" fill="#9d0000"/><rect x="530.52" y="439.5" width="1.2" height="5.4" fill="#860000"/><rect x="533.15" y="440.1" width="1.2" height="4.8" fill="#730000"/><rect x="535.78" y="442.0" width="1.2" height="2.9" fill="#770000"/><rect x="116.40" y="442.3" width="1.32" height="2.6" fill="#730000"/><rect x="117.72" y="439.9" width="2.63" height="5.0" fill="#780000"/><rect x="120.35" y="439.2" width="2.63" height="5.7" fill="#8e0000"/><rect x="122.98" y="438.9" width="2.63" height="6.0" fill="#8d0000"/><rect x="125.62" y="438.4" width="2.63" height="6.5" fill="#a40000"/><rect x="128.25" y="438.1" width="2.63" height="6.8" fill="#b80000"/><rect x="130.88" y="437.6" width="2.63" height="7.3" fill="#b60000"/><rect x="133.52" y="436.8" width="2.63" height="8.1" fill="#b90000"/><rect x="136.15" y="436.8" width="2.63" height="8.1" fill="#da0000"/><rect x="138.78" y="436.2" width="2.63" height="8.7" fill="#cc0000"/><rect x="141.41" y="435.9" width="2.63" height="9.0" fill="#e60900"/><rect x="144.05" y="435.1" width="2.63" height="9.8" fill="#e60400"/><rect x="146.68" y="434.6" width="2.63" height="10.3" fill="#e61a00"/><rect x="149.31" y="434.2" width="2.63" height="10.7" fill="#e62200"/><rect x="151.95" y="434.0" width="2.63" height="10.9" fill="#e63000"/><rect x="154.58" y="433.5" width="2.63" height="11.4" fill="#e63d00"/><rect x="157.21" y="433.0" width="2.63" height="11.9" fill="#e64800"/><rect x="159.85" y="432.1" width="2.63" height="12.8" fill="#e65a00"/><rect x="162.48" y="431.2" width="2.63" height="13.7" fill="#e65300"/><rect x="165.11" y="430.9" width="2.63" height="14.0" fill="#e66600"/><rect x="167.75" y="429.5" width="2.63" height="15.4" fill="#e67500"/><rect x="170.38" y="428.8" width="2.63" height="16.1" fill="#e69800"/><rect x="173.01" y="428.4" width="2.63" height="16.5" fill="#e69400"/><rect x="175.65" y="427.1" width="2.63" height="17.8" fill="#e6bb00"/><rect x="178.28" y="426.0" width="2.63" height="18.9" fill="#e6d500"/><rect x="180.91" y="424.9" width="2.63" height="20.0" fill="#e6e300"/><rect x="183.54" y="423.5" width="2.63" height="21.4" fill="#cbe61b"/><rect x="186.18" y="422.3" width="2.63" height="22.6" fill="#c5e620"/><rect x="188.81" y="420.6" width="2.63" height="24.3" fill="#a5e641"/><rect x="191.44" y="419.1" width="2.63" height="25.8" fill="#85e661"/><rect x="194.08" y="417.6" width="2.63" height="27.3" fill="#4fe697"/><rect x="196.71" y="416.5" width="2.63" height="28.4" fill="#2ce6ba"/><rect x="199.34" y="414.7" width="2.63" height="30.2" fill="#0ee6d8"/><rect x="201.98" y="412.8" width="2.63" height="32.1" fill="#00e2e6"/><rect x="204.61" y="411.2" width="2.63" height="33.7" fill="#00ade6"/><rect x="207.24" y="408.9" width="2.63" height="36.0" fill="#0088e6"/><rect x="209.88" y="403.5" width="2.63" height="41.4" fill="#0067e6"/><rect x="212.51" y="400.8" width="2.63" height="44.1" fill="#0054e6"/><rect x="215.14" y="398.5" width="2.63" height="46.4" fill="#002ee6"/><rect x="217.78" y="396.2" width="2.63" height="48.7" fill="#0022e6"/><rect x="220.41" y="394.6" width="2.63" height="50.3" fill="#0000e3"/><rect x="223.04" y="392.5" width="2.63" height="52.4" fill="#0000dd"/><rect x="225.67" y="390.6" width="2.63" height="54.3" fill="#0000b8"/><rect x="228.31" y="390.1" width="2.63" height="54.8" fill="#00009b"/><rect x="230.94" y="388.9" width="2.63" height="56.0" fill="#0000a5"/><rect x="233.57" y="388.2" width="2.63" height="56.7" fill="#00009c"/><rect x="236.21" y="388.9" width="2.63" height="56.0" fill="#000094"/><rect x="238.84" y="388.8" width="2.63" height="56.1" fill="#000099"/><rect x="241.47" y="389.3" width="2.63" height="55.6" fill="#0000c0"/><rect x="244.11" y="390.3" width="2.63" height="54.6" fill="#0000e3"/><rect x="246.74" y="390.7" width="2.63" height="54.2" fill="#002ce6"/><rect x="249.37" y="391.7" width="2.63" height="53.2" fill="#006ee6"/><rect x="252.01" y="392.3" width="2.63" height="52.6" fill="#00ace6"/><rect x="254.64" y="393.3" width="2.63" height="51.6" fill="#0ae6dc"/><rect x="257.27" y="394.1" width="2.63" height="50.8" fill="#06e6df"/><rect x="259.91" y="395.2" width="2.63" height="49.7" fill="#1ee6c7"/><rect x="262.54" y="395.5" width="2.63" height="49.4" fill="#32e6b4"/><rect x="265.17" y="396.8" width="2.63" height="48.1" fill="#4ee698"/><rect x="267.80" y="397.5" width="2.63" height="47.4" fill="#7be66b"/><rect x="270.44" y="397.3" width="2.63" height="47.6" fill="#87e65e"/><rect x="273.07" y="397.6" width="2.63" height="47.3" fill="#a2e644"/><rect x="275.70" y="397.8" width="2.63" height="47.1" fill="#9fe647"/><rect x="278.34" y="398.2" width="2.63" height="46.7" fill="#b0e635"/><rect x="280.97" y="398.2" width="2.63" height="46.7" fill="#94e652"/><rect x="283.60" y="398.1" width="2.63" height="46.8" fill="#9de648"/><rect x="286.24" y="398.1" width="2.63" height="46.8" fill="#9be64a"/><rect x="288.87" y="397.7" width="2.63" height="47.2" fill="#97e64e"/><rect x="291.50" y="397.7" width="2.63" height="47.2" fill="#61e684"/><rect x="294.14" y="397.1" width="2.63" height="47.8" fill="#71e674"/><rect x="296.77" y="395.6" width="2.63" height="49.3" fill="#35e6b0"/><rect x="299.40" y="393.0" width="2.63" height="51.9" fill="#33e6b2"/><rect x="302.04" y="389.7" width="2.63" height="55.2" fill="#34e6b1"/><rect x="304.67" y="387.3" width="2.63" height="57.6" fill="#00dae6"/><rect x="307.30" y="385.4" width="2.63" height="59.5" fill="#0de6d9"/><rect x="309.93" y="384.1" width="2.63" height="60.8" fill="#00cce6"/><rect x="312.57" y="382.7" width="2.63" height="62.2" fill="#00a4e6"/><rect x="315.20" y="382.1" width="2.63" height="62.8" fill="#006ee6"/><rect x="317.83" y="381.0" width="2.63" height="63.9" fill="#005ee6"/><rect x="320.47" y="379.8" width="2.63" height="65.1" fill="#001ee6"/><rect x="323.10" y="379.7" width="2.63" height="65.2" fill="#0017e6"/><rect x="325.73" y="379.3" width="2.63" height="65.6" fill="#0000e5"/><rect x="328.37" y="379.8" width="2.63" height="65.1" fill="#0000da"/><rect x="331.00" y="380.1" width="2.63" height="64.8" fill="#0026e6"/><rect x="333.63" y="380.7" width="2.63" height="64.2" fill="#005ee6"/><rect x="336.27" y="381.6" width="2.63" height="63.3" fill="#006ae6"/><rect x="338.90" y="382.7" width="2.63" height="62.2" fill="#0093e6"/><rect x="341.53" y="384.0" width="2.63" height="60.9" fill="#00c0e6"/><rect x="344.17" y="385.3" width="2.63" height="59.6" fill="#00dbe6"/><rect x="346.80" y="386.9" width="2.63" height="58.0" fill="#05e6e1"/><rect x="349.43" y="389.5" width="2.63" height="55.4" fill="#23e6c3"/><rect x="352.06" y="393.3" width="2.63" height="51.6" fill="#1be6ca"/><rect x="354.70" y="395.5" width="2.63" height="49.4" fill="#57e68f"/><rect x="357.33" y="397.2" width="2.63" height="47.7" fill="#61e684"/><rect x="359.96" y="397.4" width="2.63" height="47.5" fill="#91e655"/><rect x="362.60" y="397.7" width="2.63" height="47.2" fill="#94e652"/><rect x="365.23" y="398.3" width="2.63" height="46.6" fill="#9be64a"/><rect x="367.86" y="398.2" width="2.63" height="46.7" fill="#96e64f"/><rect x="370.50" y="398.5" width="2.63" height="46.4" fill="#97e64f"/><rect x="373.13" y="398.5" width="2.63" height="46.4" fill="#8ce659"/><rect x="375.76" y="398.0" width="2.63" height="46.9" fill="#abe63b"/><rect x="378.40" y="397.7" width="2.63" height="47.2" fill="#94e652"/><rect x="381.03" y="397.6" width="2.63" height="47.3" fill="#98e64e"/><rect x="383.66" y="397.4" width="2.63" height="47.5" fill="#5de689"/><rect x="386.30" y="396.5" width="2.63" height="48.4" fill="#59e68c"/><rect x="388.93" y="395.7" width="2.63" height="49.2" fill="#59e68c"/><rect x="391.56" y="395.1" width="2.63" height="49.8" fill="#21e6c5"/><rect x="394.19" y="394.5" width="2.63" height="50.4" fill="#29e6bd"/><rect x="396.83" y="393.3" width="2.63" height="51.6" fill="#00e2e6"/><rect x="399.46" y="392.8" width="2.63" height="52.1" fill="#00b7e6"/><rect x="402.09" y="392.1" width="2.63" height="52.8" fill="#0059e6"/><rect x="404.73" y="391.2" width="2.63" height="53.7" fill="#0020e6"/><rect x="407.36" y="390.5" width="2.63" height="54.4" fill="#0000db"/><rect x="409.99" y="389.7" width="2.63" height="55.2" fill="#0000af"/><rect x="412.63" y="388.8" width="2.63" height="56.1" fill="#00009b"/><rect x="415.26" y="388.9" width="2.63" height="56.0" fill="#00009e"/><rect x="417.89" y="388.1" width="2.63" height="56.8" fill="#000083"/><rect x="420.53" y="388.8" width="2.63" height="56.1" fill="#000098"/><rect x="423.16" y="390.0" width="2.63" height="54.9" fill="#0000b5"/><rect x="425.79" y="390.8" width="2.63" height="54.1" fill="#0000af"/><rect x="428.43" y="392.2" width="2.63" height="52.7" fill="#0000e0"/><rect x="431.06" y="394.2" width="2.63" height="50.7" fill="#0005e6"/><rect x="433.69" y="396.2" width="2.63" height="48.7" fill="#0030e6"/><rect x="436.32" y="398.6" width="2.63" height="46.3" fill="#0047e6"/><rect x="438.96" y="400.9" width="2.63" height="44.0" fill="#0053e6"/><rect x="441.59" y="403.7" width="2.63" height="41.2" fill="#0062e6"/><rect x="444.22" y="408.6" width="2.63" height="36.3" fill="#0095e6"/><rect x="446.86" y="411.5" width="2.63" height="33.4" fill="#00b5e6"/><rect x="449.49" y="413.1" width="2.63" height="31.8" fill="#01e6e4"/><rect x="452.12" y="414.8" width="2.63" height="30.1" fill="#1be6cb"/><rect x="454.76" y="416.0" width="2.63" height="28.9" fill="#37e6af"/><rect x="457.39" y="417.7" width="2.63" height="27.2" fill="#52e694"/><rect x="460.02" y="419.3" width="2.63" height="25.6" fill="#7ee667"/><rect x="462.66" y="420.9" width="2.63" height="24.0" fill="#94e652"/><rect x="465.29" y="421.9" width="2.63" height="23.0" fill="#aee637"/><rect x="467.92" y="423.2" width="2.63" height="21.7" fill="#c2e624"/><rect x="470.56" y="424.6" width="2.63" height="20.3" fill="#e6e200"/><rect x="473.19" y="425.9" width="2.63" height="19.0" fill="#e6db00"/><rect x="475.82" y="427.5" width="2.63" height="17.4" fill="#e6ab00"/><rect x="478.45" y="428.0" width="2.63" height="16.9" fill="#e69a00"/><rect x="481.09" y="429.3" width="2.63" height="15.6" fill="#e69900"/><rect x="483.72" y="430.1" width="2.63" height="14.8" fill="#e67400"/><rect x="486.35" y="430.3" width="2.63" height="14.6" fill="#e66d00"/><rect x="488.99" y="431.3" width="2.63" height="13.6" fill="#e66b00"/><rect x="491.62" y="432.2" width="2.63" height="12.7" fill="#e65700"/><rect x="494.25" y="433.1" width="2.63" height="11.8" fill="#e64c00"/><rect x="496.89" y="433.6" width="2.63" height="11.3" fill="#e63000"/><rect x="499.52" y="433.6" width="2.63" height="11.3" fill="#e62700"/><rect x="502.15" y="434.0" width="2.63" height="10.9" fill="#e61b00"/><rect x="504.79" y="434.6" width="2.63" height="10.3" fill="#e62100"/><rect x="507.42" y="435.3" width="2.63" height="9.6" fill="#e60400"/><rect x="510.05" y="435.6" width="2.63" height="9.3" fill="#db0000"/><rect x="512.69" y="436.4" width="2.63" height="8.5" fill="#e60100"/><rect x="515.32" y="436.8" width="2.63" height="8.1" fill="#c80000"/><rect x="517.95" y="437.4" width="2.63" height="7.5" fill="#c30000"/><rect x="520.58" y="437.4" width="2.63" height="7.5" fill="#af0000"/><rect x="523.22" y="437.9" width="2.63" height="7.0" fill="#a00000"/><rect x="525.85" y="438.4" width="2.63" height="6.5" fill="#aa0000"/><rect x="528.48" y="438.6" width="2.63" height="6.3" fill="#9d0000"/><rect x="531.12" y="439.5" width="2.63" height="5.4" fill="#860000"/><rect x="533.75" y="440.1" width="2.63" height="4.8" fill="#730000"/><rect x="536.38" y="442.0" width="1.32" height="2.9" fill="#770000"/><g fill="none" stroke="#000" stroke-width=".85"><path d="M116.40 444.9V442.3M122.98 444.9V438.9M128.25 444.9V438.1M133.52 444.9V436.8M136.15 444.9V436.8M144.05 444.9V435.1M159.85 444.9V432.1M162.48 444.9V431.2M167.75 444.9V429.5M170.38 444.9V428.8M178.28 444.9V426.0M186.18 444.9V422.3M199.34 444.9V414.7M209.88 444.9V403.5M230.94 444.9V388.9M244.11 444.9V389.3M246.74 444.9V390.3M249.37 444.9V390.7M267.80 444.9V396.8M280.97 444.9V398.2M294.14 444.9V397.1M299.40 444.9V393.0M304.67 444.9V387.3M336.27 444.9V380.7M341.53 444.9V382.7M354.70 444.9V393.3M367.86 444.9V398.2M370.50 444.9V398.2M386.30 444.9V396.5M391.56 444.9V395.1M399.46 444.9V392.8M404.73 444.9V391.2M452.12 444.9V413.1M462.66 444.9V419.3M470.56 444.9V423.2M475.82 444.9V425.9M481.09 444.9V428.0M483.72 444.9V429.3M502.15 444.9V433.6M504.79 444.9V434.0M515.32 444.9V436.4M531.12 444.9V438.6M533.75 444.9V439.5" stroke-opacity=".4"/><path d="M117.72 444.9V439.9M120.35 444.9V439.2M125.62 444.9V438.4M130.88 444.9V437.6M146.68 444.9V434.6M149.31 444.9V434.2M151.95 444.9V434.0M154.58 444.9V433.5M157.21 444.9V433.0M165.11 444.9V430.9M173.01 444.9V428.4M175.65 444.9V427.1M180.91 444.9V424.9M183.54 444.9V423.5M188.81 444.9V420.6M194.08 444.9V417.6M201.98 444.9V412.8M204.61 444.9V411.2M207.24 444.9V408.9M212.51 444.9V400.8M215.14 444.9V398.5M220.41 444.9V394.6M225.67 444.9V390.6M228.31 444.9V390.1M233.57 444.9V388.2M236.21 444.9V388.2M241.47 444.9V388.8M252.01 444.9V391.7M262.54 444.9V395.2M265.17 444.9V395.5M273.07 444.9V397.3M275.70 444.9V397.6M283.60 444.9V398.1M296.77 444.9V395.6M302.04 444.9V389.7M309.93 444.9V384.1M312.57 444.9V382.7M315.20 444.9V382.1M317.83 444.9V381.0M320.47 444.9V379.8M323.10 444.9V379.7M325.73 444.9V379.3M328.37 444.9V379.3M331.00 444.9V379.8M333.63 444.9V380.1M349.43 444.9V386.9M352.06 444.9V389.5M357.33 444.9V395.5M359.96 444.9V397.2M362.60 444.9V397.4M373.13 444.9V398.5M375.76 444.9V398.0M378.40 444.9V397.7M383.66 444.9V397.4M388.93 444.9V395.7M394.19 444.9V394.5M402.09 444.9V392.1M407.36 444.9V390.5M412.63 444.9V388.8M423.16 444.9V388.8M425.79 444.9V390.0M428.43 444.9V390.8M433.69 444.9V394.2M436.32 444.9V396.2M438.96 444.9V398.6M441.59 444.9V400.9M444.22 444.9V403.7M446.86 444.9V408.6M454.76 444.9V414.8M457.39 444.9V416.0M460.02 444.9V417.7M465.29 444.9V420.9M467.92 444.9V421.9M473.19 444.9V424.6M486.35 444.9V430.1M488.99 444.9V430.3M491.62 444.9V431.3M494.25 444.9V432.2M496.89 444.9V433.1M507.42 444.9V434.6M510.05 444.9V435.3M512.69 444.9V435.6M523.22 444.9V437.4M525.85 444.9V437.9M528.48 444.9V438.4M537.70 444.9V442.0" stroke-opacity=".56"/><path d="M138.78 444.9V436.2M141.41 444.9V435.9M191.44 444.9V419.1M196.71 444.9V416.5M217.78 444.9V396.2M223.04 444.9V392.5M238.84 444.9V388.8M254.64 444.9V392.3M257.27 444.9V393.3M259.91 444.9V394.1M270.44 444.9V397.3M278.34 444.9V397.8M286.24 444.9V398.1M288.87 444.9V397.7M291.50 444.9V397.7M307.30 444.9V385.4M338.90 444.9V381.6M344.17 444.9V384.0M346.80 444.9V385.3M365.23 444.9V397.7M381.03 444.9V397.6M396.83 444.9V393.3M409.99 444.9V389.7M415.26 444.9V388.8M417.89 444.9V388.1M420.53 444.9V388.1M431.06 444.9V392.2M449.49 444.9V411.5M478.45 444.9V427.5M499.52 444.9V433.6M517.95 444.9V436.8M520.58 444.9V437.4M536.38 444.9V440.1" stroke-opacity=".75"/><path d="M116.40 442.3H117.72M117.72 439.9H120.35M120.35 439.2H122.98M122.98 438.9H125.62M125.62 438.4H128.25M128.25 438.1H130.88M130.88 437.6H133.52M133.52 436.8H136.15M136.15 436.8H138.78M138.78 436.2H141.41M141.41 435.9H144.05M144.05 435.1H146.68M146.68 434.6H149.31M149.31 434.2H151.95M151.95 434.0H154.58M154.58 433.5H157.21M157.21 433.0H159.85M159.85 432.1H162.48M162.48 431.2H165.11M165.11 430.9H167.75M167.75 429.5H170.38M170.38 428.8H173.01M173.01 428.4H175.65M175.65 427.1H178.28M178.28 426.0H180.91M180.91 424.9H183.54M183.54 423.5H186.18M186.18 422.3H188.81M188.81 420.6H191.44M191.44 419.1H194.08M194.08 417.6H196.71M196.71 416.5H199.34M199.34 414.7H201.98M201.98 412.8H204.61M204.61 411.2H207.24M207.24 408.9H209.88M209.88 403.5H212.51M212.51 400.8H215.14M215.14 398.5H217.78M217.78 396.2H220.41M220.41 394.6H223.04M223.04 392.5H225.67M225.67 390.6H228.31M228.31 390.1H230.94M230.94 388.9H233.57M233.57 388.2H236.21M236.21 388.9H238.84M238.84 388.8H241.47M241.47 389.3H244.11M244.11 390.3H246.74M246.74 390.7H249.37M249.37 391.7H252.01M252.01 392.3H254.64M254.64 393.3H257.27M257.27 394.1H259.91M259.91 395.2H262.54M262.54 395.5H265.17M265.17 396.8H267.80M267.80 397.5H270.44M270.44 397.3H273.07M273.07 397.6H275.70M275.70 397.8H278.34M278.34 398.2H280.97M280.97 398.2H283.60M283.60 398.1H286.24M286.24 398.1H288.87M288.87 397.7H291.50M291.50 397.7H294.14M294.14 397.1H296.77M296.77 395.6H299.40M299.40 393.0H302.04M302.04 389.7H304.67M304.67 387.3H307.30M307.30 385.4H309.93M309.93 384.1H312.57M312.57 382.7H315.20M315.20 382.1H317.83M317.83 381.0H320.47M320.47 379.8H323.10M323.10 379.7H325.73M325.73 379.3H328.37M328.37 379.8H331.00M331.00 380.1H333.63M333.63 380.7H336.27M336.27 381.6H338.90M338.90 382.7H341.53M341.53 384.0H344.17M344.17 385.3H346.80M346.80 386.9H349.43M349.43 389.5H352.06M352.06 393.3H354.70M354.70 395.5H357.33M357.33 397.2H359.96M359.96 397.4H362.60M362.60 397.7H365.23M365.23 398.3H367.86M367.86 398.2H370.50M370.50 398.5H373.13M373.13 398.5H375.76M375.76 398.0H378.40M378.40 397.7H381.03M381.03 397.6H383.66M383.66 397.4H386.30M386.30 396.5H388.93M388.93 395.7H391.56M391.56 395.1H394.19M394.19 394.5H396.83M396.83 393.3H399.46M399.46 392.8H402.09M402.09 392.1H404.73M404.73 391.2H407.36M407.36 390.5H409.99M409.99 389.7H412.63M412.63 388.8H415.26M415.26 388.9H417.89M417.89 388.1H420.53M420.53 388.8H423.16M423.16 390.0H425.79M425.79 390.8H428.43M428.43 392.2H431.06M431.06 394.2H433.69M433.69 396.2H436.32M436.32 398.6H438.96M438.96 400.9H441.59M441.59 403.7H444.22M444.22 408.6H446.86M446.86 411.5H449.49M449.49 413.1H452.12M452.12 414.8H454.76M454.76 416.0H457.39M457.39 417.7H460.02M460.02 419.3H462.66M462.66 420.9H465.29M465.29 421.9H467.92M467.92 423.2H470.56M470.56 424.6H473.19M473.19 425.9H475.82M475.82 427.5H478.45M478.45 428.0H481.09M481.09 429.3H483.72M483.72 430.1H486.35M486.35 430.3H488.99M488.99 431.3H491.62M491.62 432.2H494.25M494.25 433.1H496.89M496.89 433.6H499.52M499.52 433.6H502.15M502.15 434.0H504.79M504.79 434.6H507.42M507.42 435.3H510.05M510.05 435.6H512.69M512.69 436.4H515.32M515.32 436.8H517.95M517.95 437.4H520.58M520.58 437.4H523.22M523.22 437.9H525.85M525.85 438.4H528.48M528.48 438.6H531.12M531.12 439.5H533.75M533.75 440.1H536.38M536.38 442.0H537.70" stroke-opacity=".4" stroke-width=".8"/></g></g>
<polyline fill="none" stroke="#000" stroke-width="2.5" stroke-linejoin="round" points="116.4,442.6 117.5,442.6 118.5,442.6 119.6,442.6 120.6,442.5 121.7,442.5 122.7,442.5 123.8,442.5 124.8,442.5 125.9,442.4 126.9,442.4 128.0,442.4 129.0,442.4 130.1,442.3 131.1,442.3 132.2,442.3 133.3,442.2 134.3,442.2 135.4,442.2 136.4,442.2 137.5,442.1 138.5,442.1 139.6,442.1 140.6,442.0 141.7,442.0 142.7,442.0 143.8,442.0 144.8,441.9 145.9,441.9 146.9,441.9 148.0,441.8 149.1,441.8 150.1,441.8 151.2,441.7 152.2,441.7 153.3,441.6 154.3,441.6 155.4,441.6 156.4,441.5 157.5,441.5 158.5,441.5 159.6,441.4 160.6,441.4 161.7,441.3 162.7,441.3 163.8,441.2 164.8,441.2 165.9,441.2 167.0,441.1 168.0,441.1 169.1,441.0 170.1,441.0 171.2,440.9 172.2,440.9 173.3,440.8 174.3,440.8 175.4,440.7 176.4,440.7 177.5,440.6 178.5,440.6 179.6,440.5 180.6,440.4 181.7,440.4 182.8,440.3 183.8,440.3 184.9,440.2 185.9,440.1 187.0,440.1 188.0,440.0 189.1,439.9 190.1,439.9 191.2,439.8 192.2,439.7 193.3,439.7 194.3,439.6 195.4,439.5 196.4,439.4 197.5,439.3 198.6,439.3 199.6,439.2 200.7,439.1 201.7,439.0 202.8,438.9 203.8,438.8 204.9,438.7 205.9,438.7 207.0,438.6 208.0,438.5 209.1,438.4 210.1,438.3 211.2,438.2 212.2,438.1 213.3,437.9 214.4,437.8 215.4,437.7 216.5,437.6 217.5,437.5 218.6,437.4 219.6,437.2 220.7,437.1 221.7,437.0 222.8,436.8 223.8,436.7 224.9,436.6 225.9,436.4 227.0,436.3 228.0,436.1 229.1,436.0 230.2,435.8 231.2,435.7 232.3,435.5 233.3,435.3 234.4,435.2 235.4,435.0 236.5,434.8 237.5,434.6 238.6,434.4 239.6,434.2 240.7,434.0 241.7,433.8 242.8,433.6 243.8,433.4 244.9,433.2 245.9,432.9 247.0,432.7 248.1,432.4 249.1,432.2 250.2,431.9 251.2,431.7 252.3,431.4 253.3,431.1 254.4,430.9 255.4,430.6 256.5,430.3 257.5,430.0 258.6,429.7 259.6,429.3 260.7,429.0 261.7,428.7 262.8,428.3 263.9,428.0 264.9,427.6 266.0,427.2 267.0,426.8 268.1,426.4 269.1,426.0 270.2,425.6 271.2,425.2 272.3,424.8 273.3,424.3 274.4,423.9 275.4,423.4 276.5,422.9 277.5,422.4 278.6,421.9 279.7,421.4 280.7,420.9 281.8,420.3 282.8,419.8 283.9,419.2 284.9,418.6 286.0,418.0 287.0,417.4 288.1,416.8 289.1,416.2 290.2,415.6 291.2,415.0 292.3,414.3 293.3,413.7 294.4,413.0 295.5,412.3 296.5,411.7 297.6,411.0 298.6,410.3 299.7,409.6 300.7,409.0 301.8,408.3 302.8,407.6 303.9,406.9 304.9,406.3 306.0,405.6 307.0,405.0 308.1,404.4 309.1,403.7 310.2,403.1 311.3,402.6 312.3,402.0 313.4,401.5 314.4,401.0 315.5,400.5 316.5,400.1 317.6,399.7 318.6,399.3 319.7,399.0 320.7,398.7 321.8,398.4 322.8,398.2 323.9,398.1 324.9,398.0 326.0,397.9 327.1,397.9 328.1,397.9 329.2,398.0 330.2,398.1 331.3,398.2 332.3,398.4 333.4,398.7 334.4,399.0 335.5,399.3 336.5,399.7 337.6,400.1 338.6,400.5 339.7,401.0 340.7,401.5 341.8,402.0 342.8,402.6 343.9,403.1 345.0,403.7 346.0,404.4 347.1,405.0 348.1,405.6 349.2,406.3 350.2,406.9 351.3,407.6 352.3,408.3 353.4,409.0 354.4,409.6 355.5,410.3 356.5,411.0 357.6,411.7 358.6,412.3 359.7,413.0 360.8,413.7 361.8,414.3 362.9,415.0 363.9,415.6 365.0,416.2 366.0,416.8 367.1,417.4 368.1,418.0 369.2,418.6 370.2,419.2 371.3,419.8 372.3,420.3 373.4,420.9 374.4,421.4 375.5,421.9 376.6,422.4 377.6,422.9 378.7,423.4 379.7,423.9 380.8,424.3 381.8,424.8 382.9,425.2 383.9,425.6 385.0,426.0 386.0,426.4 387.1,426.8 388.1,427.2 389.2,427.6 390.2,428.0 391.3,428.3 392.4,428.7 393.4,429.0 394.5,429.3 395.5,429.7 396.6,430.0 397.6,430.3 398.7,430.6 399.7,430.9 400.8,431.1 401.8,431.4 402.9,431.7 403.9,431.9 405.0,432.2 406.0,432.4 407.1,432.7 408.2,432.9 409.2,433.2 410.3,433.4 411.3,433.6 412.4,433.8 413.4,434.0 414.5,434.2 415.5,434.4 416.6,434.6 417.6,434.8 418.7,435.0 419.7,435.2 420.8,435.3 421.8,435.5 422.9,435.7 423.9,435.8 425.0,436.0 426.1,436.1 427.1,436.3 428.2,436.4 429.2,436.6 430.3,436.7 431.3,436.8 432.4,437.0 433.4,437.1 434.5,437.2 435.5,437.4 436.6,437.5 437.6,437.6 438.7,437.7 439.7,437.8 440.8,437.9 441.9,438.1 442.9,438.2 444.0,438.3 445.0,438.4 446.1,438.5 447.1,438.6 448.2,438.7 449.2,438.7 450.3,438.8 451.3,438.9 452.4,439.0 453.4,439.1 454.5,439.2 455.5,439.3 456.6,439.3 457.7,439.4 458.7,439.5 459.8,439.6 460.8,439.7 461.9,439.7 462.9,439.8 464.0,439.9 465.0,439.9 466.1,440.0 467.1,440.1 468.2,440.1 469.2,440.2 470.3,440.3 471.3,440.3 472.4,440.4 473.5,440.4 474.5,440.5 475.6,440.6 476.6,440.6 477.7,440.7 478.7,440.7 479.8,440.8 480.8,440.8 481.9,440.9 482.9,440.9 484.0,441.0 485.0,441.0 486.1,441.1 487.1,441.1 488.2,441.2 489.3,441.2 490.3,441.2 491.4,441.3 492.4,441.3 493.5,441.4 494.5,441.4 495.6,441.5 496.6,441.5 497.7,441.5 498.7,441.6 499.8,441.6 500.8,441.6 501.9,441.7 502.9,441.7 504.0,441.8 505.0,441.8 506.1,441.8 507.2,441.9 508.2,441.9 509.3,441.9 510.3,442.0 511.4,442.0 512.4,442.0 513.5,442.0 514.5,442.1 515.6,442.1 516.6,442.1 517.7,442.2 518.7,442.2 519.8,442.2 520.8,442.2 521.9,442.3 523.0,442.3 524.0,442.3 525.1,442.4 526.1,442.4 527.2,442.4 528.2,442.4 529.3,442.5 530.3,442.5 531.4,442.5 532.4,442.5 533.5,442.5 534.5,442.6 535.6,442.6 536.6,442.6 537.7,442.6"/>
<text x="327.05" y="469.20" transform="rotate(.03 327.05 469.20)" font-size="9.7" text-anchor="middle">X<tspan font-size="7.4" dy="4.4">bin</tspan><tspan dy="-4.4"> [m]</tspan></text>
<text transform="translate(95.2 404.8) rotate(-89.97)" font-size="9.2" text-anchor="middle">pts/m<tspan font-size="7.9" dy="-4.2">2</tspan></text>
<text x="4.50" y="402.10" transform="rotate(.03 4.50 402.10)" font-size="15" text-anchor="start" class="s">(<tspan>c</tspan>)</text>
</g>
</svg></body></html>
